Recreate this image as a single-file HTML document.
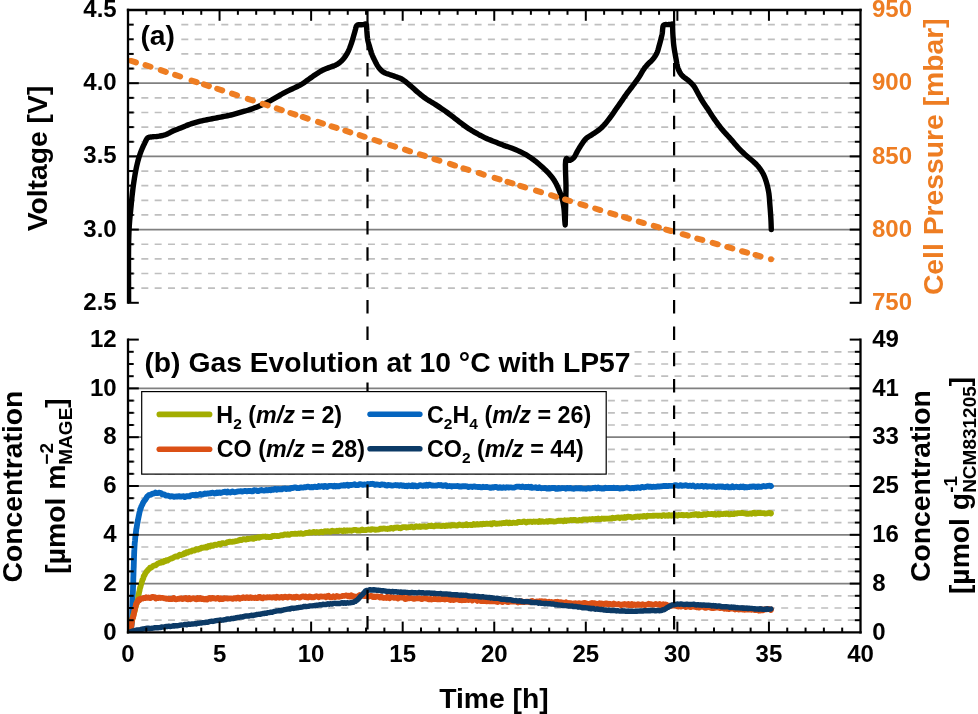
<!DOCTYPE html>
<html><head><meta charset="utf-8"><style>
html,body{margin:0;padding:0;background:#fff;overflow:hidden;}
svg{display:block;will-change:transform;}
</style></head><body>
<svg width="978" height="714" viewBox="0 0 978 714">
<defs><clipPath id="cu"><rect x="128" y="10" width="732.5" height="292.8"/></clipPath><clipPath id="cl"><rect x="128" y="339.6" width="732.5" height="292.8"/></clipPath></defs>
<rect width="978" height="714" fill="#fff"/>
<line x1="128" y1="288.16" x2="860.5" y2="288.16" stroke="#BFBFBF" stroke-width="1.7" stroke-dasharray="7 6.33"/>
<line x1="128" y1="273.52" x2="860.5" y2="273.52" stroke="#BFBFBF" stroke-width="1.7" stroke-dasharray="7 6.33"/>
<line x1="128" y1="258.88" x2="860.5" y2="258.88" stroke="#BFBFBF" stroke-width="1.7" stroke-dasharray="7 6.33"/>
<line x1="128" y1="244.24" x2="860.5" y2="244.24" stroke="#BFBFBF" stroke-width="1.7" stroke-dasharray="7 6.33"/>
<line x1="128" y1="229.6" x2="860.5" y2="229.6" stroke="#808080" stroke-width="1.7"/>
<line x1="128" y1="214.96" x2="860.5" y2="214.96" stroke="#BFBFBF" stroke-width="1.7" stroke-dasharray="7 6.33"/>
<line x1="128" y1="200.32" x2="860.5" y2="200.32" stroke="#BFBFBF" stroke-width="1.7" stroke-dasharray="7 6.33"/>
<line x1="128" y1="185.68" x2="860.5" y2="185.68" stroke="#BFBFBF" stroke-width="1.7" stroke-dasharray="7 6.33"/>
<line x1="128" y1="171.04" x2="860.5" y2="171.04" stroke="#BFBFBF" stroke-width="1.7" stroke-dasharray="7 6.33"/>
<line x1="128" y1="156.4" x2="860.5" y2="156.4" stroke="#808080" stroke-width="1.7"/>
<line x1="128" y1="141.76" x2="860.5" y2="141.76" stroke="#BFBFBF" stroke-width="1.7" stroke-dasharray="7 6.33"/>
<line x1="128" y1="127.12" x2="860.5" y2="127.12" stroke="#BFBFBF" stroke-width="1.7" stroke-dasharray="7 6.33"/>
<line x1="128" y1="112.48" x2="860.5" y2="112.48" stroke="#BFBFBF" stroke-width="1.7" stroke-dasharray="7 6.33"/>
<line x1="128" y1="97.84" x2="860.5" y2="97.84" stroke="#BFBFBF" stroke-width="1.7" stroke-dasharray="7 6.33"/>
<line x1="128" y1="83.2" x2="860.5" y2="83.2" stroke="#808080" stroke-width="1.7"/>
<line x1="128" y1="68.56" x2="860.5" y2="68.56" stroke="#BFBFBF" stroke-width="1.7" stroke-dasharray="7 6.33"/>
<line x1="128" y1="53.92" x2="860.5" y2="53.92" stroke="#BFBFBF" stroke-width="1.7" stroke-dasharray="7 6.33"/>
<line x1="128" y1="39.28" x2="860.5" y2="39.28" stroke="#BFBFBF" stroke-width="1.7" stroke-dasharray="7 6.33"/>
<line x1="128" y1="24.64" x2="860.5" y2="24.64" stroke="#BFBFBF" stroke-width="1.7" stroke-dasharray="7 6.33"/>
<line x1="128" y1="620.2" x2="860.5" y2="620.2" stroke="#BFBFBF" stroke-width="1.7" stroke-dasharray="7 6.33"/>
<line x1="128" y1="608" x2="860.5" y2="608" stroke="#BFBFBF" stroke-width="1.7" stroke-dasharray="7 6.33"/>
<line x1="128" y1="595.8" x2="860.5" y2="595.8" stroke="#BFBFBF" stroke-width="1.7" stroke-dasharray="7 6.33"/>
<line x1="128" y1="583.6" x2="860.5" y2="583.6" stroke="#808080" stroke-width="1.7"/>
<line x1="128" y1="571.4" x2="860.5" y2="571.4" stroke="#BFBFBF" stroke-width="1.7" stroke-dasharray="7 6.33"/>
<line x1="128" y1="559.2" x2="860.5" y2="559.2" stroke="#BFBFBF" stroke-width="1.7" stroke-dasharray="7 6.33"/>
<line x1="128" y1="547" x2="860.5" y2="547" stroke="#BFBFBF" stroke-width="1.7" stroke-dasharray="7 6.33"/>
<line x1="128" y1="534.8" x2="860.5" y2="534.8" stroke="#808080" stroke-width="1.7"/>
<line x1="128" y1="522.6" x2="860.5" y2="522.6" stroke="#BFBFBF" stroke-width="1.7" stroke-dasharray="7 6.33"/>
<line x1="128" y1="510.4" x2="860.5" y2="510.4" stroke="#BFBFBF" stroke-width="1.7" stroke-dasharray="7 6.33"/>
<line x1="128" y1="498.2" x2="860.5" y2="498.2" stroke="#BFBFBF" stroke-width="1.7" stroke-dasharray="7 6.33"/>
<line x1="128" y1="486" x2="860.5" y2="486" stroke="#808080" stroke-width="1.7"/>
<line x1="128" y1="473.8" x2="860.5" y2="473.8" stroke="#BFBFBF" stroke-width="1.7" stroke-dasharray="7 6.33"/>
<line x1="128" y1="461.6" x2="860.5" y2="461.6" stroke="#BFBFBF" stroke-width="1.7" stroke-dasharray="7 6.33"/>
<line x1="128" y1="449.4" x2="860.5" y2="449.4" stroke="#BFBFBF" stroke-width="1.7" stroke-dasharray="7 6.33"/>
<line x1="128" y1="437.2" x2="860.5" y2="437.2" stroke="#808080" stroke-width="1.7"/>
<line x1="128" y1="425" x2="860.5" y2="425" stroke="#BFBFBF" stroke-width="1.7" stroke-dasharray="7 6.33"/>
<line x1="128" y1="412.8" x2="860.5" y2="412.8" stroke="#BFBFBF" stroke-width="1.7" stroke-dasharray="7 6.33"/>
<line x1="128" y1="400.6" x2="860.5" y2="400.6" stroke="#BFBFBF" stroke-width="1.7" stroke-dasharray="7 6.33"/>
<line x1="128" y1="388.4" x2="860.5" y2="388.4" stroke="#808080" stroke-width="1.7"/>
<line x1="128" y1="376.2" x2="860.5" y2="376.2" stroke="#BFBFBF" stroke-width="1.7" stroke-dasharray="7 6.33"/>
<line x1="128" y1="364" x2="860.5" y2="364" stroke="#BFBFBF" stroke-width="1.7" stroke-dasharray="7 6.33"/>
<line x1="128" y1="351.8" x2="860.5" y2="351.8" stroke="#BFBFBF" stroke-width="1.7" stroke-dasharray="7 6.33"/>
<path clip-path="url(#cl)" d="M128.5,632 L129.18,631.01 L129.9,630.05 L130.52,628.59 L130.96,628.33 L131.25,627.06 L131.48,625.28 L131.65,624.38 L131.78,623.13 L131.89,622.18 L131.98,621.15 L132.05,619.11 L132.12,617.84 L132.16,617.61 L132.2,615.92 L132.24,615.12 L132.27,613.01 L132.3,612.34 L132.32,611.47 L132.34,609.68 L132.36,609.34 L132.38,608.09 L132.4,605.84 L132.43,604.64 L132.46,604.06 L132.49,603.33 L132.53,601.47 L132.57,600.07 L132.62,599.12 L132.67,597.45 L132.72,596.48 L132.77,595.54 L132.81,594.41 L132.86,592.89 L132.9,591.69 L132.94,590.48 L132.98,589.57 L133.02,588.17 L133.06,586.64 L133.1,586.42 L133.14,584.89 L133.17,583.79 L133.21,582.04 L133.24,581.81 L133.28,580.45 L133.32,578.37 L133.35,577.42 L133.39,576.69 L133.43,575.48 L133.46,574.55 L133.5,572.73 L133.54,572.02 L133.58,570.63 L133.62,568.99 L133.66,568.13 L133.71,567.29 L133.75,566.04 L133.79,564.44 L133.83,563.34 L133.87,561.47 L133.91,560.52 L133.95,559.99 L133.99,558.33 L134.03,556.84 L134.07,556.09 L134.11,555.08 L134.15,553.85 L134.2,552.29 L134.25,551.16 L134.31,550.05 L134.37,549.18 L134.44,547.67 L134.52,546.32 L134.6,545.24 L134.69,543.49 L134.78,542.31 L134.89,541.9 L135,541.04 L135.11,539.38 L135.23,537.95 L135.35,536.49 L135.49,535.69 L135.62,535.08 L135.77,533.63 L135.92,532.16 L136.07,531.36 L136.24,529.42 L136.42,528.57 L136.61,527.91 L136.82,526.28 L137.04,524.96 L137.26,523.55 L137.48,522.7 L137.69,522.01 L137.9,519.69 L138.1,519.44 L138.31,518.3 L138.53,517.2 L138.78,515.85 L139.04,514.76 L139.31,513.25 L139.59,512.13 L139.9,510.81 L140.23,509.21 L140.59,509.04 L141,507.56 L141.45,506 L141.94,505.27 L142.46,504.17 L143.01,502.95 L143.59,501.88 L144.2,501.08 L144.86,500.18 L145.57,499.2 L146.32,498.08 L147.11,496.65 L147.93,496.03 L148.82,495.16 L149.78,494.93 L150.8,494.62 L151.87,494.01 L153,493.6 L154.16,493.35 L155.36,492.53 L156.55,493.22 L157.75,493.15 L158.93,492.67 L160.09,492.87 L161.24,493.22 L162.37,494.5 L163.51,494.28 L164.63,494.54 L165.75,495.59 L166.88,495.66 L168.03,495.66 L169.21,495.99 L170.4,496.55 L171.6,496.18 L172.8,496.33 L174,496.85 L175.2,496.54 L176.4,496.39 L177.6,496.6 L178.8,496.08 L180,496.53 L181.2,496.58 L182.4,496.3 L183.6,496.18 L184.8,497.08 L186,496.53 L187.19,496.06 L188.38,496.37 L189.56,496.43 L190.74,495.25 L191.92,495.02 L193.1,494.95 L194.28,495.42 L195.47,494.55 L196.65,495.04 L197.84,494.86 L199.03,494.55 L200.23,494.02 L201.42,494.79 L202.61,494.44 L203.8,493.97 L205,493.5 L206.19,493.89 L207.39,493.46 L208.58,493.56 L209.77,493.14 L210.97,493.4 L212.16,492.61 L213.36,492.79 L214.56,493.49 L215.75,493.28 L216.95,492.5 L218.14,493.07 L219.34,492.32 L220.54,492.99 L221.73,492.67 L222.93,492.2 L224.13,491.93 L225.33,491.57 L226.53,492.55 L227.72,491.48 L228.92,492.36 L230.12,492.48 L231.32,491.95 L232.52,491.42 L233.72,492.21 L234.92,492.29 L236.12,491.91 L237.32,491.63 L238.51,491.42 L239.71,491.34 L240.91,491.12 L242.11,491.63 L243.31,491.28 L244.51,490.94 L245.71,490.78 L246.91,491.39 L248.1,490.88 L249.3,491.06 L250.5,490.78 L251.7,491.37 L252.9,491.33 L254.09,490.21 L255.29,490.35 L256.49,490.44 L257.69,491.15 L258.89,490.84 L260.08,490.23 L261.28,490 L262.48,490.48 L263.68,490.6 L264.87,490.64 L266.07,489.86 L267.27,490.43 L268.47,490.11 L269.66,489.79 L270.86,490.31 L272.06,489.33 L273.26,489.84 L274.45,488.99 L275.65,489.02 L276.85,489.82 L278.04,488.9 L279.24,489.47 L280.44,489.2 L281.64,489.4 L282.83,488.74 L284.03,488.61 L285.22,488.46 L286.42,489.06 L287.62,488.65 L288.81,488.97 L290.01,488.8 L291.21,487.8 L292.4,488.21 L293.6,487.58 L294.8,487.4 L295.99,487.35 L297.19,488.22 L298.39,488.04 L299.58,488 L300.78,487.33 L301.98,487.58 L303.17,487.7 L304.37,487.14 L305.57,487.3 L306.77,486.82 L307.97,486.59 L309.16,486.75 L310.36,487.45 L311.56,487.01 L312.76,487.39 L313.96,486.79 L315.16,486.53 L316.36,487.1 L317.56,487.11 L318.76,486.09 L319.96,486.84 L321.16,486.11 L322.36,486.1 L323.56,486.99 L324.76,485.93 L325.95,486.13 L327.15,486.99 L328.35,486.27 L329.55,485.86 L330.75,485.87 L331.95,485.91 L333.15,486.46 L334.35,485.63 L335.55,486.54 L336.74,485.83 L337.94,486.47 L339.14,486.32 L340.34,485.51 L341.53,485.38 L342.73,485.57 L343.93,485.03 L345.13,485.61 L346.32,484.79 L347.52,484.67 L348.72,485.75 L349.91,484.84 L351.11,485.12 L352.31,484.87 L353.51,484.63 L354.7,484.25 L355.9,485.2 L357.1,485.2 L358.3,485.14 L359.5,484.06 L360.7,484.13 L361.9,484.57 L363.09,484.96 L364.29,484.4 L365.49,484.54 L366.69,484.48 L367.89,483.98 L369.09,484.3 L370.29,484.02 L371.49,483.95 L372.69,483.77 L373.89,484.03 L375.09,484.91 L376.29,484.3 L377.49,484.61 L378.69,484.67 L379.89,485.1 L381.08,484.52 L382.28,484.5 L383.48,484.61 L384.67,484.69 L385.87,485.42 L387.07,485.56 L388.26,484.94 L389.46,485.06 L390.66,485.39 L391.86,485.51 L393.05,485.59 L394.25,485.23 L395.45,485.01 L396.65,485.32 L397.85,485.15 L399.05,485.75 L400.25,485.2 L401.45,485.22 L402.65,485.91 L403.85,485.51 L405.05,486.12 L406.25,485.77 L407.45,486.22 L408.65,485.37 L409.85,485.78 L411.05,486.13 L412.25,485.26 L413.45,486.3 L414.65,485.35 L415.85,486.06 L417.05,486.29 L418.25,486.06 L419.45,485.42 L420.65,485.11 L421.84,485.53 L423.04,485.94 L424.24,485.11 L425.44,485.76 L426.64,484.79 L427.83,485.66 L429.03,484.57 L430.23,484.89 L431.43,485.58 L432.63,485.48 L433.83,485.62 L435.03,485.58 L436.23,485.5 L437.43,485.48 L438.63,484.92 L439.83,485.29 L441.03,485.02 L442.22,485.76 L443.42,485.77 L444.62,485.34 L445.82,485.19 L447.02,486.34 L448.21,486.23 L449.41,485.99 L450.61,486.06 L451.81,486.5 L453.01,486.09 L454.2,486.09 L455.4,486.08 L456.6,486.05 L457.8,485.83 L459,486.62 L460.2,486.4 L461.4,486.63 L462.6,486.06 L463.79,486.45 L464.99,486.22 L466.19,486.24 L467.39,486.43 L468.59,487.15 L469.79,486.66 L470.99,486.69 L472.19,486.98 L473.39,486.55 L474.59,486.3 L475.79,486.95 L476.99,486.95 L478.19,487.15 L479.39,486.92 L480.59,487.24 L481.79,487.32 L482.99,486.76 L484.19,487.09 L485.39,487.1 L486.59,486.82 L487.79,487.07 L488.99,487.28 L490.19,487.73 L491.39,487.78 L492.59,487.05 L493.78,487.54 L494.98,486.87 L496.18,486.93 L497.38,487.49 L498.58,487.95 L499.78,487.09 L500.98,487.81 L502.18,487.93 L503.38,487.22 L504.58,487.64 L505.78,487.78 L506.98,487.16 L508.18,487.51 L509.38,487.5 L510.58,487.28 L511.78,487.54 L512.98,487.54 L514.17,487.58 L515.37,487.07 L516.57,486.56 L517.77,486.63 L518.97,486.57 L520.17,486.98 L521.37,487.21 L522.57,486.38 L523.77,487.16 L524.97,487.24 L526.17,486.83 L527.37,487.08 L528.57,486.72 L529.77,487.45 L530.97,486.69 L532.16,487.88 L533.36,487.74 L534.56,487.6 L535.76,487.24 L536.96,488.08 L538.15,488.21 L539.35,487.29 L540.55,488.12 L541.75,488.25 L542.95,488.09 L544.15,488.19 L545.35,487.93 L546.54,488.56 L547.74,488.66 L548.94,488.01 L550.14,488.56 L551.34,488.16 L552.54,487.88 L553.74,488.11 L554.94,487.9 L556.14,488.87 L557.34,488.95 L558.54,487.96 L559.74,488.55 L560.94,488.34 L562.14,488 L563.34,488.22 L564.54,488.16 L565.74,488.77 L566.94,487.87 L568.14,488.09 L569.34,488.39 L570.54,487.88 L571.74,488.61 L572.94,488.57 L574.14,488.84 L575.34,488.08 L576.54,488.16 L577.74,488.46 L578.94,488.12 L580.14,488.49 L581.34,488.07 L582.54,488.56 L583.74,488.67 L584.94,488.67 L586.14,488.84 L587.34,488.29 L588.54,488.2 L589.74,488.61 L590.94,488.47 L592.13,488.21 L593.33,487.96 L594.53,487.81 L595.73,487.58 L596.93,488.4 L598.13,487.56 L599.33,488.3 L600.53,488.05 L601.73,488.56 L602.93,488.32 L604.13,488.58 L605.33,487.59 L606.53,488.05 L607.73,488.16 L608.93,487.86 L610.13,488.12 L611.33,487.96 L612.53,488.19 L613.73,487.58 L614.93,488.13 L616.13,488.15 L617.33,487.99 L618.53,488.1 L619.73,488.56 L620.93,488.43 L622.13,488.18 L623.33,488.34 L624.53,487.99 L625.73,487.74 L626.93,487.46 L628.13,487.74 L629.33,488.07 L630.53,488.36 L631.73,488.23 L632.92,487.79 L634.12,488.3 L635.32,487.6 L636.52,487.99 L637.72,487.41 L638.91,487.75 L640.11,487.98 L641.31,487.1 L642.51,486.87 L643.71,487.34 L644.91,487.16 L646.1,486.88 L647.3,486.38 L648.5,486.77 L649.7,486.74 L650.89,486.64 L652.09,487.11 L653.29,486.71 L654.49,486.81 L655.68,486.93 L656.88,486.68 L658.08,486.3 L659.28,486.53 L660.48,486.33 L661.67,486.27 L662.87,486.17 L664.07,485.83 L665.27,486.01 L666.46,485.93 L667.66,486.21 L668.86,485.95 L670.06,485.96 L671.25,485.81 L672.45,485.82 L673.65,485.54 L674.85,485.22 L676.05,485.11 L677.25,485.66 L678.45,485.87 L679.65,485.5 L680.85,485.06 L682.05,485.92 L683.25,485.54 L684.45,485.57 L685.65,485.11 L686.85,485.71 L688.05,486.05 L689.25,485.71 L690.44,485.68 L691.64,486.09 L692.84,485.37 L694.04,486 L695.24,486.57 L696.44,486.3 L697.64,485.99 L698.84,486.37 L700.04,486.3 L701.24,485.86 L702.44,485.9 L703.64,486.74 L704.84,486.04 L706.04,485.84 L707.24,486.78 L708.44,486.45 L709.64,486.29 L710.84,486.5 L712.03,486.8 L713.23,486.15 L714.43,486.76 L715.63,486.86 L716.83,487.01 L718.03,486.39 L719.23,486.82 L720.43,486.39 L721.63,486.81 L722.83,486.36 L724.03,487.12 L725.23,487.23 L726.43,486.6 L727.63,486.49 L728.83,487.39 L730.03,487.09 L731.23,487.27 L732.43,486.3 L733.63,487.36 L734.83,487.03 L736.03,486.67 L737.23,486.82 L738.43,487.22 L739.63,487.25 L740.83,486.54 L742.03,487.06 L743.23,486.51 L744.43,487.47 L745.63,486.83 L746.83,487.39 L748.03,487.16 L749.23,487.01 L750.43,486.58 L751.63,486.88 L752.83,486.4 L754.03,486.37 L755.23,487.04 L756.43,486.58 L757.63,487.01 L758.83,486.36 L760.03,486.89 L761.23,486.83 L762.43,486.28 L763.62,485.99 L764.82,486.28 L766.02,486.33 L767.22,485.8 L768.42,485.84 L769.62,485.63 L770.82,486.23 L771,486.1" fill="none" stroke="#0565BF" stroke-width="5.8" stroke-linejoin="round" stroke-linecap="round"/>
<path clip-path="url(#cl)" d="M128.5,632 L128.85,630.85 L129.19,629.7 L129.54,629.1 L129.89,627.94 L130.24,625.73 L130.59,624.61 L130.93,624.36 L131.27,623.09 L131.6,621.86 L131.92,620.27 L132.24,619.47 L132.55,618.31 L132.86,617.12 L133.17,615.45 L133.48,614.62 L133.79,613.42 L134.11,612.66 L134.43,611.83 L134.77,610.62 L135.11,608.98 L135.46,607.72 L135.81,606.36 L136.16,604.93 L136.5,603.77 L136.83,603.14 L137.17,601.81 L137.49,600.73 L137.78,600.18 L138.05,598.57 L138.29,597.44 L138.5,595.87 L138.69,594.43 L138.89,593.61 L139.08,592.2 L139.29,591.46 L139.52,590.87 L139.78,589.31 L140.06,587.55 L140.36,587.24 L140.67,585.97 L141,584.74 L141.33,583.79 L141.69,582.48 L142.06,581.37 L142.45,579.71 L142.87,579.34 L143.3,578.19 L143.75,576.12 L144.24,575.74 L144.78,574.62 L145.39,573.28 L146.03,572.35 L146.72,571.32 L147.45,570.89 L148.24,569.48 L149.1,569.03 L150.02,567.7 L151.01,567.65 L152.04,567.06 L153.1,565.97 L154.18,565.57 L155.27,565.48 L156.36,564.75 L157.45,563.96 L158.54,563.15 L159.65,562.81 L160.76,562.81 L161.88,561.74 L163,562.2 L164.12,561.01 L165.24,561.35 L166.36,560.2 L167.48,560.54 L168.59,559.79 L169.71,559.1 L170.82,558.66 L171.93,558.37 L173.04,557.85 L174.16,557.08 L175.28,556.51 L176.4,556.44 L177.52,556.53 L178.64,555.73 L179.77,554.66 L180.9,555.15 L182.03,554.63 L183.16,554.45 L184.29,553.19 L185.43,553.47 L186.56,552.25 L187.7,552.58 L188.83,551.73 L189.97,551.29 L191.1,551.68 L192.24,550.38 L193.38,550.5 L194.53,550.54 L195.67,549.46 L196.83,549.09 L197.99,549.58 L199.15,548.74 L200.32,548.82 L201.49,547.74 L202.66,547.87 L203.83,547.38 L205,547.71 L206.17,546.72 L207.33,547.48 L208.5,546.08 L209.67,546.65 L210.83,545.52 L212,545.52 L213.17,545.92 L214.34,544.87 L215.51,544.65 L216.69,545.01 L217.86,544.41 L219.04,543.77 L220.22,544.68 L221.4,543.44 L222.58,543.07 L223.75,543.2 L224.93,543.28 L226.1,543.18 L227.27,542.16 L228.44,542.17 L229.61,541.54 L230.78,541.78 L231.96,541.9 L233.13,541.62 L234.31,541.58 L235.48,541.17 L236.66,541.08 L237.85,540.69 L239.03,540.22 L240.22,539.73 L241.4,540.08 L242.59,539.49 L243.78,539.07 L244.97,539.32 L246.16,539.67 L247.35,538.62 L248.54,539.02 L249.73,538.64 L250.92,538.64 L252.11,538.06 L253.3,538.89 L254.49,537.91 L255.69,538.19 L256.88,537.82 L258.07,537.2 L259.26,537.71 L260.45,537.08 L261.65,536.85 L262.84,536.69 L264.03,536.72 L265.23,536.52 L266.42,537.04 L267.61,536.77 L268.81,537.22 L270,537.04 L271.2,537 L272.39,535.97 L273.59,536.11 L274.78,535.76 L275.97,536.05 L277.17,535.97 L278.36,536.06 L279.56,535.84 L280.75,535.17 L281.94,535.25 L283.14,535.25 L284.33,534.51 L285.53,534.43 L286.72,534.75 L287.91,534.28 L289.11,534.89 L290.3,534.2 L291.5,533.91 L292.69,533.89 L293.89,533.84 L295.08,533.71 L296.28,533.96 L297.47,533.78 L298.67,533.48 L299.86,533.77 L301.06,533.15 L302.25,533.87 L303.45,533.83 L304.64,533.44 L305.84,532.98 L307.03,532.96 L308.23,532.94 L309.42,532.2 L310.62,532.54 L311.81,532.57 L313.01,532.07 L314.21,531.87 L315.4,532.63 L316.6,532.02 L317.8,532.12 L318.99,532.53 L320.19,532.08 L321.39,531.62 L322.59,532.38 L323.79,531.58 L324.98,531.09 L326.18,531.83 L327.38,531.07 L328.58,531.26 L329.78,531.84 L330.98,531.58 L332.18,530.74 L333.37,531.21 L334.57,531.1 L335.77,531.14 L336.97,530.76 L338.17,531.16 L339.37,530.49 L340.57,530.7 L341.77,530.75 L342.97,531.38 L344.16,530.29 L345.36,531.06 L346.56,530.33 L347.76,530.74 L348.96,530.47 L350.16,530.51 L351.36,530.8 L352.56,530.32 L353.76,529.94 L354.95,529.89 L356.15,529.78 L357.35,530.65 L358.55,530.34 L359.75,530.67 L360.95,530.29 L362.15,529.43 L363.34,530.13 L364.54,530.21 L365.74,530.09 L366.94,529.75 L368.14,529.51 L369.34,529.57 L370.53,529.91 L371.73,529.2 L372.93,529.44 L374.13,529.31 L375.33,529.81 L376.52,529.56 L377.72,529.64 L378.92,529.45 L380.12,528.72 L381.31,528.57 L382.51,528.8 L383.71,528.45 L384.91,528.57 L386.1,528.8 L387.3,529.01 L388.5,528.53 L389.7,528.73 L390.89,527.79 L392.09,528.02 L393.29,528.71 L394.49,527.62 L395.68,527.86 L396.88,527.37 L398.08,527.31 L399.28,528.21 L400.47,528.24 L401.67,527.76 L402.87,527.06 L404.07,527.19 L405.27,527.04 L406.46,527.5 L407.66,527.44 L408.86,527.08 L410.06,527.11 L411.26,526.55 L412.45,527 L413.65,527.43 L414.85,527.13 L416.05,526.28 L417.25,526.72 L418.45,526.9 L419.64,526.29 L420.84,527 L422.04,526.42 L423.24,526.66 L424.44,526.25 L425.64,526.91 L426.84,526.6 L428.04,526.3 L429.23,525.73 L430.43,526.04 L431.63,525.5 L432.83,526.13 L434.03,526.43 L435.23,525.54 L436.43,525.89 L437.63,525.81 L438.83,525.67 L440.03,526 L441.23,526.22 L442.43,525.9 L443.62,525.58 L444.82,526.13 L446.02,525.32 L447.22,525.78 L448.42,525.63 L449.62,525.71 L450.82,525.78 L452.02,524.99 L453.22,525.42 L454.42,525.11 L455.62,525.39 L456.82,525.72 L458.02,525.26 L459.21,524.47 L460.41,524.97 L461.61,525.22 L462.81,525.38 L464.01,525.06 L465.21,525.21 L466.41,524.2 L467.61,525.26 L468.81,524.96 L470.01,524.76 L471.21,525.07 L472.4,525 L473.6,524.01 L474.8,524.81 L476,524.71 L477.2,523.97 L478.4,524.58 L479.6,524.34 L480.8,523.81 L482,524.5 L483.19,523.65 L484.39,524.17 L485.59,523.9 L486.79,523.63 L487.99,523.96 L489.19,523.79 L490.39,523.42 L491.59,524.28 L492.79,523.16 L493.98,523.02 L495.18,523.54 L496.38,523.91 L497.58,523.64 L498.78,523.7 L499.98,523.32 L501.18,523.49 L502.38,523.03 L503.57,522.89 L504.77,523.11 L505.97,522.48 L507.17,522.48 L508.37,523.23 L509.57,522.46 L510.76,523.09 L511.96,523.06 L513.16,522.53 L514.36,522.78 L515.56,522.84 L516.75,522.86 L517.95,521.91 L519.15,521.88 L520.35,522.07 L521.54,522.1 L522.74,521.83 L523.94,521.43 L525.14,522.02 L526.34,522.46 L527.54,521.69 L528.74,521.84 L529.94,521.61 L531.13,521.64 L532.33,522.12 L533.53,521.41 L534.73,521.79 L535.93,521.56 L537.13,521.59 L538.33,522.02 L539.53,520.99 L540.73,521.86 L541.93,521.22 L543.13,521.6 L544.33,521.76 L545.53,521.57 L546.73,521.23 L547.93,521.75 L549.13,520.83 L550.33,521.45 L551.53,521.13 L552.73,521.27 L553.93,521.62 L555.13,521.53 L556.33,521.29 L557.53,520.86 L558.73,520.72 L559.93,520.94 L561.12,520.62 L562.32,520.62 L563.52,521.37 L564.72,520.3 L565.92,521.08 L567.12,520.49 L568.31,520.41 L569.51,520.29 L570.71,519.94 L571.91,520.33 L573.11,519.93 L574.31,520.2 L575.51,519.97 L576.7,520.64 L577.9,520.62 L579.1,519.99 L580.3,520.17 L581.5,520.46 L582.7,519.67 L583.9,519.34 L585.09,519.43 L586.29,519.3 L587.49,519.81 L588.69,519.35 L589.88,519.24 L591.08,519.67 L592.27,518.89 L593.47,519.49 L594.67,519.17 L595.86,518.8 L597.06,519.21 L598.25,518.54 L599.45,519.1 L600.65,519.08 L601.85,518.5 L603.05,518.66 L604.24,518.91 L605.44,518.61 L606.64,518.56 L607.84,518.65 L609.04,518.68 L610.24,518.4 L611.44,518.62 L612.63,517.74 L613.83,518.08 L615.03,518.08 L616.23,517.65 L617.43,517.63 L618.63,517.3 L619.83,518.18 L621.02,517.39 L622.22,517.47 L623.42,517.91 L624.62,517 L625.82,517.87 L627.02,516.8 L628.21,516.62 L629.41,516.95 L630.61,516.89 L631.81,517.5 L633.01,517.4 L634.21,517.19 L635.4,516.74 L636.6,516.81 L637.8,516.39 L639,517.05 L640.2,516.46 L641.4,516.28 L642.6,516.64 L643.8,516 L644.99,516.15 L646.19,516.83 L647.39,515.77 L648.59,515.78 L649.79,515.8 L650.99,515.8 L652.19,515.95 L653.39,515.69 L654.58,515.75 L655.78,515.59 L656.98,515.53 L658.18,515.92 L659.38,515.55 L660.58,515.54 L661.78,515.97 L662.98,515.07 L664.18,515.13 L665.38,515.93 L666.58,515.39 L667.77,515.76 L668.97,514.95 L670.17,515.38 L671.37,515.73 L672.57,515.08 L673.77,515.57 L674.97,515.34 L676.17,515.05 L677.37,515.75 L678.57,514.99 L679.77,515.06 L680.97,515.21 L682.17,514.82 L683.37,515.41 L684.57,515.1 L685.77,515.06 L686.97,514.98 L688.17,515.49 L689.37,515.47 L690.57,515.26 L691.77,514.77 L692.97,514.69 L694.17,514.8 L695.37,514.2 L696.57,514.25 L697.77,515.28 L698.97,514.21 L700.16,515.16 L701.36,514.82 L702.56,515.07 L703.76,514.04 L704.96,514.28 L706.16,514.84 L707.36,513.87 L708.56,513.96 L709.76,514.22 L710.96,513.98 L712.16,513.92 L713.36,514.52 L714.56,513.8 L715.76,514.82 L716.96,514.41 L718.16,513.66 L719.36,514.65 L720.56,513.83 L721.76,514.08 L722.96,514.15 L724.16,513.61 L725.36,514.02 L726.56,513.45 L727.76,513.59 L728.96,514.42 L730.16,514.27 L731.35,513.87 L732.55,514.02 L733.75,514.22 L734.95,513.3 L736.15,513.68 L737.35,513.21 L738.55,513.16 L739.75,513.11 L740.95,513.2 L742.15,512.97 L743.35,513.13 L744.55,513.29 L745.75,513.55 L746.95,513.79 L748.15,513.82 L749.35,513.56 L750.55,513.28 L751.75,513.75 L752.95,512.82 L754.15,512.73 L755.35,513.57 L756.55,513.33 L757.75,512.82 L758.95,513.02 L760.15,512.92 L761.35,513.08 L762.55,513.08 L763.75,513.05 L764.95,513.53 L766.15,513.56 L767.35,513.26 L768.55,513.16 L769.75,512.94 L770.95,513.52 L771,513.2" fill="none" stroke="#A3AD00" stroke-width="5.8" stroke-linejoin="round" stroke-linecap="round"/>
<path clip-path="url(#cl)" d="M128.5,632 L129.08,630.95 L129.69,629.92 L130.28,628.45 L130.8,627.86 L131.2,626.45 L131.44,625.65 L131.59,624.5 L131.7,622.4 L131.83,621.13 L132.04,621.27 L132.33,619.18 L132.66,617.98 L133.01,618.05 L133.35,616.06 L133.66,615.49 L133.93,613.74 L134.17,612.83 L134.4,610.87 L134.62,610.46 L134.85,609.66 L135.1,607.93 L135.39,607.12 L135.73,605.86 L136.11,603.75 L136.54,603.74 L137.05,602.38 L137.7,600.91 L138.5,599.59 L139.42,600.16 L140.42,598.86 L141.48,598.7 L142.6,598.52 L143.76,597.98 L144.96,598.17 L146.15,597.26 L147.35,597.89 L148.55,597.31 L149.75,598.11 L150.95,598.07 L152.15,596.87 L153.35,597 L154.55,597.19 L155.75,598.46 L156.94,597.68 L158.14,598.04 L159.34,597.58 L160.54,597.98 L161.74,597.85 L162.94,597.86 L164.13,598.3 L165.33,598.36 L166.53,598.92 L167.73,598.61 L168.93,599.04 L170.13,598.96 L171.33,599.21 L172.53,598.72 L173.73,597.94 L174.93,599.08 L176.13,599.26 L177.33,599.19 L178.53,598.67 L179.73,598.91 L180.93,598.13 L182.13,599.13 L183.33,598.73 L184.53,598.29 L185.73,597.95 L186.93,599.22 L188.13,599.45 L189.33,598.02 L190.53,599.17 L191.73,598.55 L192.93,598.15 L194.13,598.38 L195.33,599.15 L196.53,599.32 L197.73,598 L198.93,598.91 L200.13,598 L201.33,599.08 L202.53,598.45 L203.73,599.33 L204.93,599.48 L206.13,598.71 L207.33,599.49 L208.53,598.38 L209.73,597.99 L210.93,598.81 L212.13,597.89 L213.33,598.14 L214.53,598.45 L215.73,598.76 L216.93,598.01 L218.13,597.81 L219.33,599.1 L220.53,598.19 L221.72,599.2 L222.92,599.07 L224.12,598.22 L225.32,598.32 L226.52,598.39 L227.72,598.56 L228.92,598.46 L230.12,598.37 L231.32,598.44 L232.52,598.93 L233.72,598.21 L234.92,598.06 L236.12,598.5 L237.32,597.7 L238.52,597.77 L239.72,598.83 L240.92,598.07 L242.12,598.09 L243.32,597.2 L244.52,597.83 L245.72,598.07 L246.92,597.15 L248.12,598.08 L249.32,598.08 L250.52,597.14 L251.72,598.03 L252.92,597.75 L254.12,598.07 L255.32,597.53 L256.52,598.07 L257.72,598.1 L258.92,596.93 L260.12,596.97 L261.32,597.94 L262.52,598.38 L263.72,597.22 L264.92,597.52 L266.12,597.72 L267.32,597.26 L268.52,597.31 L269.72,597.21 L270.92,597.28 L272.11,597.62 L273.31,597.13 L274.51,597.23 L275.71,597.84 L276.91,596.63 L278.11,597.48 L279.31,597.73 L280.51,597.03 L281.71,596.87 L282.91,597.78 L284.11,596.85 L285.31,596.75 L286.51,597.13 L287.71,597.53 L288.91,596.56 L290.11,596.89 L291.31,596.89 L292.51,597.68 L293.71,597.03 L294.91,597.68 L296.11,596.56 L297.31,596.82 L298.51,597.3 L299.71,597.66 L300.91,596.95 L302.11,596.58 L303.31,596.39 L304.51,597.03 L305.71,596.48 L306.91,597.45 L308.11,597.48 L309.31,596.42 L310.51,596.55 L311.71,597.38 L312.91,597.1 L314.11,597.35 L315.31,596.59 L316.51,596.23 L317.71,596.47 L318.91,597.25 L320.11,596.4 L321.31,596.49 L322.51,596.58 L323.71,596.56 L324.91,596.52 L326.11,597.31 L327.31,596.06 L328.51,595.78 L329.71,597.25 L330.91,597.11 L332.11,597.25 L333.31,596.33 L334.5,597.11 L335.7,597.04 L336.9,595.87 L338.1,596.67 L339.3,596.79 L340.5,596.47 L341.7,596.21 L342.9,595.82 L344.1,595.88 L345.3,595.67 L346.5,595.4 L347.7,596.21 L348.9,595.7 L350.1,596.52 L351.3,595.27 L352.5,596.62 L353.7,596.26 L354.9,596.61 L356.1,596.55 L357.3,596.55 L358.5,596.03 L359.7,595.12 L360.9,596.3 L362.1,595.39 L363.3,595.61 L364.5,596.22 L365.7,596.03 L366.9,595.9 L368.1,596.79 L369.29,596.34 L370.49,595.98 L371.69,595.92 L372.89,596.99 L374.08,596.47 L375.28,597.06 L376.47,596.48 L377.67,596.33 L378.86,596.98 L380.06,597.53 L381.25,596.6 L382.45,597.69 L383.65,597.98 L384.84,597.88 L386.04,597.98 L387.24,596.75 L388.44,597.8 L389.64,598.24 L390.84,597 L392.03,597.42 L393.23,597.47 L394.43,597.93 L395.63,597.82 L396.83,597.95 L398.03,598.49 L399.23,597.3 L400.43,597.43 L401.63,597.59 L402.82,597.63 L404.02,597.58 L405.22,599.08 L406.42,598.93 L407.62,597.74 L408.82,598.44 L410.02,598.18 L411.22,598.22 L412.42,598.32 L413.62,598.83 L414.82,598.77 L416.02,598.44 L417.22,598.21 L418.42,598.46 L419.62,598.16 L420.82,598.88 L422.02,599.17 L423.22,598.66 L424.41,598.2 L425.61,598.38 L426.81,598.72 L428.01,599.11 L429.21,599.41 L430.41,598.79 L431.61,599.48 L432.81,599.22 L434.01,598.93 L435.21,598.85 L436.41,599.07 L437.61,599.42 L438.81,598.98 L440.01,599.44 L441.21,599.08 L442.41,598.76 L443.61,599.24 L444.81,599.52 L446.01,598.54 L447.21,599.13 L448.41,599.15 L449.61,599.9 L450.81,600.01 L452.01,599.14 L453.21,600.01 L454.41,599.86 L455.61,599.05 L456.81,599.41 L458.01,598.89 L459.21,600.04 L460.41,599.84 L461.61,600.24 L462.81,600.13 L464.01,599.97 L465.2,600.12 L466.4,599.9 L467.6,599.21 L468.8,600.03 L470,599.15 L471.2,599.42 L472.4,600.49 L473.6,599.37 L474.8,599.5 L475.99,599.57 L477.19,600.87 L478.39,599.81 L479.59,599.61 L480.79,600.98 L481.99,599.88 L483.19,601.09 L484.39,600.88 L485.58,601.19 L486.78,601.43 L487.98,600.89 L489.18,601.3 L490.38,600.13 L491.58,601.36 L492.78,601.02 L493.97,601.41 L495.17,600.5 L496.37,601.6 L497.57,601.96 L498.77,600.63 L499.96,601.12 L501.16,601.57 L502.36,602.05 L503.56,601.17 L504.76,601.12 L505.96,601.28 L507.16,601.91 L508.36,602.16 L509.56,601.62 L510.76,601.6 L511.96,601.66 L513.16,601.59 L514.36,601.7 L515.56,601.16 L516.76,601.81 L517.96,602.56 L519.16,601.64 L520.36,602.16 L521.56,601.2 L522.76,602.02 L523.95,602.1 L525.15,601.95 L526.35,601.67 L527.55,601.6 L528.75,601.84 L529.95,602.22 L531.15,601.02 L532.35,600.92 L533.55,601.96 L534.75,602.23 L535.95,601.59 L537.15,601.49 L538.35,601.95 L539.55,601.12 L540.75,601.29 L541.95,601.22 L543.15,601.88 L544.35,601.49 L545.55,601.42 L546.75,602.21 L547.95,602.69 L549.14,601.71 L550.34,602.43 L551.54,602.03 L552.74,602.8 L553.94,602.44 L555.13,602.01 L556.33,602 L557.53,601.76 L558.73,602.56 L559.93,602.47 L561.12,602.2 L562.32,602.56 L563.52,602.56 L564.72,603.34 L565.92,602.37 L567.12,603.78 L568.32,603 L569.52,603.23 L570.72,603.05 L571.92,603.67 L573.12,603.68 L574.32,603.28 L575.52,603.19 L576.71,603.59 L577.91,603.83 L579.11,603.12 L580.31,603.68 L581.51,604.06 L582.71,603.29 L583.91,602.93 L585.11,602.96 L586.31,603.75 L587.51,603.7 L588.71,604.17 L589.91,604.03 L591.11,603.07 L592.31,603.02 L593.51,603.15 L594.71,603.07 L595.91,603.93 L597.11,604.21 L598.31,604.31 L599.51,603.32 L600.71,604.34 L601.91,603.51 L603.11,603.73 L604.31,604.27 L605.5,603.29 L606.7,603.35 L607.9,604.58 L609.1,603.77 L610.3,603.92 L611.5,604.33 L612.7,604.53 L613.9,603.51 L615.1,604.08 L616.3,604.28 L617.5,604.4 L618.69,604 L619.89,604.63 L621.09,605.26 L622.29,604.38 L623.49,604.65 L624.69,603.99 L625.89,604.25 L627.09,604.89 L628.29,604.01 L629.49,605.24 L630.69,605.28 L631.89,603.97 L633.09,605.31 L634.29,604.39 L635.49,605.01 L636.69,604.97 L637.89,604.21 L639.09,604.81 L640.29,604.75 L641.49,604.98 L642.69,604.09 L643.89,604.86 L645.09,605.17 L646.29,604.69 L647.49,604.46 L648.69,603.77 L649.89,604.37 L651.09,604.14 L652.29,604.73 L653.49,604.66 L654.69,604.5 L655.89,603.9 L657.09,604.66 L658.29,604.68 L659.49,604 L660.69,605.2 L661.89,604.9 L663.08,604.15 L664.28,605.55 L665.47,604.41 L666.66,604.84 L667.85,605.6 L669.05,605.54 L670.24,605.6 L671.44,605.86 L672.63,605.66 L673.83,605.51 L675.03,605.38 L676.22,605.28 L677.42,606.39 L678.62,606.52 L679.82,606.24 L681.02,606.62 L682.21,606.07 L683.41,605.98 L684.61,606.23 L685.81,607.06 L687.01,605.79 L688.21,606.58 L689.41,606.23 L690.6,607.11 L691.8,606.5 L693,606.52 L694.2,606.68 L695.4,606.96 L696.6,607.38 L697.8,606.76 L699,607.6 L700.2,606.48 L701.39,606.79 L702.59,606.57 L703.79,606.65 L704.99,607.77 L706.19,607.74 L707.39,606.93 L708.59,606.99 L709.79,607.41 L710.98,607.98 L712.18,608.15 L713.38,608.1 L714.58,607.9 L715.78,607.24 L716.98,607.7 L718.18,607.42 L719.38,608.01 L720.57,608.13 L721.77,607.6 L722.97,607.73 L724.17,608.63 L725.37,607.49 L726.57,608.78 L727.77,608.98 L728.97,609.13 L730.16,608.28 L731.36,608.61 L732.56,608.72 L733.76,608.87 L734.96,609.49 L736.16,609.1 L737.35,608.55 L738.55,609.53 L739.75,609 L740.95,609.27 L742.14,609.55 L743.34,608.47 L744.54,609.77 L745.74,609.68 L746.93,609.48 L748.13,609.61 L749.33,609.58 L750.53,609.21 L751.72,609.82 L752.92,609.08 L754.12,609.88 L755.32,610.16 L756.52,609.87 L757.72,610.09 L758.92,610.73 L760.12,610.62 L761.32,609.38 L762.52,610.39 L763.72,610.06 L764.92,609.06 L766.11,609.46 L767.31,609.16 L768.5,608.81 L769.7,609.45 L770.9,609.99 L771,609.3" fill="none" stroke="#DB5015" stroke-width="5.8" stroke-linejoin="round" stroke-linecap="round"/>
<path clip-path="url(#cl)" d="M128.5,632.3 L129.67,632.03 L130.84,631.75 L132,631.31 L133.17,630.94 L134.33,630.83 L135.5,630.4 L136.67,630.07 L137.84,630.01 L139.01,630.06 L140.18,629.74 L141.36,629.49 L142.54,628.96 L143.73,628.97 L144.92,628.65 L146.11,628.44 L147.3,628.27 L148.5,628.22 L149.69,628.54 L150.89,628.38 L152.08,628.27 L153.28,628.16 L154.47,627.7 L155.67,627.66 L156.86,627.74 L158.06,627.68 L159.25,627.63 L160.44,627.51 L161.64,626.91 L162.83,627.09 L164.02,627 L165.22,626.76 L166.41,626.44 L167.6,626.48 L168.79,626.12 L169.99,626.5 L171.18,626.33 L172.37,626.01 L173.57,625.74 L174.76,625.98 L175.95,625.65 L177.15,625.71 L178.34,625.57 L179.53,625.24 L180.73,625.06 L181.92,625.05 L183.12,624.83 L184.31,624.55 L185.5,624.52 L186.7,624.71 L187.89,624.14 L189.09,624.04 L190.29,624.3 L191.48,624 L192.68,624.05 L193.87,623.9 L195.07,623.7 L196.26,623.95 L197.45,623.32 L198.64,623.29 L199.83,623 L201.02,623.09 L202.2,622.71 L203.39,622.59 L204.58,622.65 L205.77,622.22 L206.95,622.19 L208.14,622.22 L209.33,621.56 L210.52,621.37 L211.7,621.29 L212.89,621.44 L214.08,621.18 L215.27,620.78 L216.45,620.67 L217.64,620.4 L218.83,620.39 L220.02,619.97 L221.2,620.19 L222.39,620.13 L223.58,619.99 L224.76,619.68 L225.95,619.64 L227.14,618.9 L228.32,618.88 L229.51,619.11 L230.7,618.81 L231.88,618.41 L233.07,618.55 L234.26,618.18 L235.44,618.11 L236.63,617.61 L237.81,617.37 L239,617.34 L240.19,616.97 L241.37,616.94 L242.56,617.11 L243.75,616.55 L244.93,616.18 L246.12,616.03 L247.31,615.93 L248.5,616.13 L249.68,615.71 L250.87,615.5 L252.06,615.22 L253.25,615.58 L254.44,615.07 L255.62,614.77 L256.81,614.5 L258,614.32 L259.18,614.2 L260.37,614.31 L261.55,613.79 L262.73,613.51 L263.91,613.56 L265.09,613.19 L266.26,613.41 L267.44,612.65 L268.62,612.66 L269.8,612.58 L270.97,612.13 L272.16,612.26 L273.34,611.75 L274.52,611.4 L275.7,611.3 L276.88,610.87 L278.07,610.91 L279.25,610.6 L280.44,610.79 L281.62,610.56 L282.8,610.16 L283.98,609.67 L285.17,609.6 L286.35,609.38 L287.53,609.15 L288.71,608.95 L289.89,609.12 L291.07,608.46 L292.25,608.2 L293.43,608.51 L294.61,608.09 L295.8,608.14 L296.98,607.59 L298.17,607.71 L299.35,607.38 L300.54,607.29 L301.73,607.1 L302.92,606.79 L304.11,606.4 L305.3,606.32 L306.49,606.57 L307.68,606.44 L308.88,606.32 L310.07,605.83 L311.26,605.88 L312.45,605.83 L313.64,605.6 L314.84,605.57 L316.03,605.26 L317.22,605.21 L318.41,605.09 L319.61,604.72 L320.8,604.98 L321.99,604.88 L323.19,604.23 L324.38,604.65 L325.58,604.53 L326.77,604.25 L327.97,603.77 L329.16,604.18 L330.36,603.63 L331.56,604.04 L332.75,603.78 L333.95,603.33 L335.15,603.31 L336.35,603.51 L337.54,603.4 L338.74,603.43 L339.94,603.46 L341.14,602.97 L342.34,602.78 L343.53,603.29 L344.73,602.7 L345.93,603.17 L347.13,602.66 L348.33,603 L349.52,602.88 L350.71,602.78 L351.9,602.43 L353.09,602.42 L354.23,601.67 L355.31,601.42 L356.3,600.54 L357.21,600.1 L358.09,599.21 L358.94,598.18 L359.77,597.35 L360.61,596.2 L361.46,595.35 L362.26,594.79 L363.02,593.8 L363.79,593.1 L364.6,592.07 L365.51,591 L366.55,590.55 L367.68,590.41 L368.87,590.06 L370.06,589.66 L371.26,590.09 L372.46,590.08 L373.66,589.68 L374.86,590.04 L376.05,590.05 L377.25,590.41 L378.44,590.26 L379.63,590.35 L380.82,590.64 L382.02,591.06 L383.21,590.67 L384.4,590.81 L385.6,591.23 L386.79,591.49 L387.99,591.36 L389.19,591.39 L390.38,591.73 L391.58,591.76 L392.78,591.41 L393.97,591.98 L395.17,591.64 L396.37,591.78 L397.57,592.18 L398.77,592 L399.96,592.29 L401.16,591.98 L402.36,592.47 L403.56,592.12 L404.76,592.16 L405.96,592.42 L407.15,592.39 L408.35,592.56 L409.55,592.82 L410.75,592.75 L411.95,592.36 L413.15,592.57 L414.35,592.73 L415.55,592.71 L416.75,592.85 L417.95,592.72 L419.15,592.48 L420.35,592.59 L421.55,592.96 L422.75,592.68 L423.95,592.95 L425.15,593.11 L426.35,592.94 L427.55,593.02 L428.75,593.04 L429.94,592.92 L431.14,593.35 L432.34,593.15 L433.54,593.49 L434.74,593.21 L435.93,593.62 L437.13,593.66 L438.33,593.64 L439.52,593.63 L440.72,593.53 L441.92,594 L443.11,593.85 L444.31,594.12 L445.51,593.89 L446.7,593.95 L447.9,594.08 L449.1,594.58 L450.29,594.29 L451.49,594.81 L452.69,594.59 L453.88,594.8 L455.08,594.75 L456.28,595 L457.47,594.77 L458.67,595.04 L459.87,595.44 L461.06,595.06 L462.26,595.43 L463.46,595.31 L464.66,595.38 L465.85,595.29 L467.05,595.37 L468.25,596.01 L469.45,596.01 L470.64,596.08 L471.84,596.17 L473.04,596.34 L474.23,595.95 L475.43,596.29 L476.63,596.33 L477.82,596.47 L479.02,596.78 L480.22,596.78 L481.41,597 L482.61,596.6 L483.8,597.03 L485,597.16 L486.19,597.32 L487.38,597.36 L488.58,597.62 L489.77,597.43 L490.96,597.95 L492.15,597.77 L493.35,598.03 L494.54,598.35 L495.73,598.39 L496.92,598.3 L498.11,598.4 L499.3,598.61 L500.49,598.94 L501.68,599.31 L502.87,599.4 L504.06,599.25 L505.25,599.39 L506.45,599.78 L507.64,599.6 L508.83,599.81 L510.02,599.71 L511.22,599.94 L512.41,600.28 L513.6,600.5 L514.8,600.58 L515.99,600.56 L517.18,601.03 L518.38,600.96 L519.57,600.8 L520.76,600.87 L521.96,601.53 L523.15,601.66 L524.35,601.74 L525.54,601.67 L526.73,601.61 L527.93,601.6 L529.12,601.82 L530.32,601.91 L531.51,602.46 L532.7,602.55 L533.9,602.6 L535.09,602.34 L536.29,602.51 L537.48,602.67 L538.68,603.18 L539.87,602.82 L541.06,603.32 L542.26,603.37 L543.45,603.4 L544.65,603.76 L545.84,603.46 L547.04,603.73 L548.23,603.62 L549.43,603.7 L550.62,603.77 L551.82,604.06 L553.01,604.05 L554.2,604.13 L555.4,604.8 L556.59,604.5 L557.79,604.97 L558.98,604.98 L560.18,605.11 L561.37,605.18 L562.56,605.48 L563.76,605.56 L564.95,605.59 L566.15,605.62 L567.34,605.82 L568.53,605.97 L569.72,606 L570.92,606.1 L572.11,606.03 L573.3,606.59 L574.49,606.51 L575.68,606.41 L576.87,606.61 L578.07,607.18 L579.26,606.96 L580.45,607.19 L581.64,607.51 L582.83,607.76 L584.02,607.59 L585.21,607.76 L586.4,607.93 L587.6,607.83 L588.79,608.48 L589.98,608.1 L591.17,608.79 L592.37,608.44 L593.56,608.56 L594.75,609.1 L595.95,609.2 L597.14,608.96 L598.34,609.26 L599.53,609.33 L600.73,609.58 L601.92,609.37 L603.12,609.86 L604.31,610.07 L605.51,610 L606.7,610.23 L607.9,610.34 L609.1,610.11 L610.29,610.48 L611.49,610.57 L612.69,610.51 L613.88,610.31 L615.08,610.69 L616.28,610.95 L617.47,610.66 L618.67,610.93 L619.87,611.15 L621.07,611.03 L622.27,610.74 L623.47,611.14 L624.67,610.96 L625.87,611.34 L627.07,611.25 L628.27,611.04 L629.47,611.4 L630.67,611.23 L631.87,611.05 L633.07,611.33 L634.27,611.34 L635.47,611.31 L636.67,611.27 L637.86,611.1 L639.06,611.09 L640.26,611 L641.46,610.91 L642.66,611.15 L643.86,610.74 L645.06,610.55 L646.26,610.9 L647.46,610.75 L648.66,610.75 L649.86,610.75 L651.06,610.51 L652.26,610.44 L653.46,610.33 L654.66,610.72 L655.86,610.75 L657.06,610.6 L658.26,610.27 L659.46,610.79 L660.66,610.66 L661.84,610.31 L663,609.68 L664.1,609.7 L665.15,609 L666.19,608.39 L667.24,607.45 L668.3,607.32 L669.34,606.31 L670.39,605.98 L671.45,605.22 L672.55,604.87 L673.69,604.81 L674.86,604.49 L676.06,604.41 L677.25,604.07 L678.45,604.12 L679.65,604.26 L680.85,603.92 L682.05,604.15 L683.25,604.49 L684.45,604.38 L685.65,604.47 L686.85,604.17 L688.05,604.44 L689.25,604.54 L690.45,604.53 L691.65,604.42 L692.85,604.32 L694.05,604.28 L695.25,604.86 L696.45,604.94 L697.64,604.61 L698.84,604.96 L700.04,604.82 L701.24,605.02 L702.44,605.21 L703.63,604.98 L704.83,605.23 L706.03,605.09 L707.23,605.33 L708.42,605.13 L709.62,605.36 L710.82,605.46 L712.01,605.93 L713.21,605.56 L714.4,606.03 L715.6,605.73 L716.8,606.37 L717.99,605.98 L719.19,606.03 L720.38,606.2 L721.58,606.74 L722.78,606.67 L723.97,606.91 L725.17,606.77 L726.36,606.63 L727.56,606.86 L728.76,607.02 L729.95,607.43 L731.15,607.02 L732.35,607.15 L733.54,607.59 L734.74,607.24 L735.94,607.84 L737.14,607.52 L738.33,607.77 L739.53,607.91 L740.73,608.14 L741.92,607.73 L743.12,608.27 L744.32,607.96 L745.52,608.36 L746.71,608.03 L747.91,608.55 L749.11,608.27 L750.31,608.36 L751.5,608.33 L752.7,608.58 L753.9,608.65 L755.1,609.1 L756.3,608.93 L757.49,608.84 L758.69,609.26 L759.89,608.81 L761.09,608.87 L762.29,609.33 L763.49,609.34 L764.69,609.17 L765.89,609.34 L767.09,608.77 L768.29,609.26 L769.49,609.13 L770.69,609.1 L771,609" fill="none" stroke="#0C3A66" stroke-width="5.4" stroke-linejoin="round" stroke-linecap="round"/>
<path clip-path="url(#cu)" d="M128.6,306 L128.59,294.53 L128.56,282.49 L128.52,270.45 L128.51,258.98 L128.56,248.64 L128.7,240 L128.81,236.23 L128.93,232.89 L129.08,229.87 L129.23,227.05 L129.41,224.33 L129.6,221.6 L129.77,219.37 L129.96,217.25 L130.17,215.19 L130.38,213.16 L130.59,211.11 L130.8,209 L131.02,206.71 L131.24,204.39 L131.47,202.04 L131.7,199.69 L131.94,197.34 L132.2,195 L132.47,192.66 L132.74,190.33 L133.03,188 L133.33,185.66 L133.66,183.33 L134,181 L134.37,178.63 L134.76,176.23 L135.18,173.84 L135.6,171.47 L136.05,169.18 L136.5,167 L136.89,165.24 L137.29,163.53 L137.7,161.88 L138.12,160.27 L138.55,158.71 L139,157.2 L139.39,155.96 L139.79,154.77 L140.19,153.61 L140.61,152.48 L141.04,151.34 L141.5,150.2 L141.99,149.01 L142.51,147.82 L143.04,146.63 L143.59,145.45 L144.14,144.3 L144.7,143.2 L145.18,142.2 L145.64,141.16 L146.1,140.15 L146.6,139.22 L147.16,138.42 L147.8,137.8 L148.4,137.46 L149.05,137.25 L149.74,137.13 L150.46,137.06 L151.22,136.99 L152,136.9 L153.06,136.77 L154.2,136.67 L155.39,136.58 L156.61,136.49 L157.82,136.37 L159,136.2 L160.17,135.99 L161.35,135.77 L162.52,135.51 L163.69,135.22 L164.85,134.89 L166,134.5 L167.19,134.01 L168.37,133.43 L169.54,132.8 L170.7,132.16 L171.86,131.55 L173,131 L174.01,130.56 L174.99,130.17 L175.96,129.8 L176.95,129.43 L177.99,129.03 L179.1,128.6 L180.74,127.93 L182.51,127.19 L184.37,126.41 L186.26,125.62 L188.16,124.88 L190,124.2 L191.71,123.62 L193.41,123.08 L195.1,122.57 L196.8,122.09 L198.5,121.64 L200.2,121.2 L201.89,120.8 L203.59,120.43 L205.29,120.09 L206.99,119.76 L208.7,119.43 L210.4,119.1 L212.11,118.76 L213.83,118.43 L215.55,118.1 L217.27,117.77 L218.99,117.44 L220.7,117.1 L222.4,116.76 L224.11,116.43 L225.81,116.1 L227.51,115.75 L229.21,115.39 L230.9,115 L232.61,114.58 L234.31,114.13 L236.01,113.66 L237.71,113.18 L239.4,112.69 L241.1,112.2 L242.8,111.71 L244.51,111.22 L246.21,110.73 L247.91,110.21 L249.61,109.67 L251.3,109.1 L253.03,108.48 L254.75,107.84 L256.47,107.17 L258.19,106.47 L259.9,105.75 L261.6,105 L263.32,104.21 L265.02,103.4 L266.73,102.55 L268.42,101.69 L270.11,100.8 L271.8,99.9 L273.54,98.93 L275.31,97.91 L277.07,96.87 L278.8,95.84 L280.45,94.87 L282,94 L283.08,93.41 L284.09,92.88 L285.06,92.38 L286.02,91.89 L286.99,91.4 L288,90.9 L289.13,90.35 L290.29,89.81 L291.47,89.27 L292.65,88.72 L293.83,88.17 L295,87.6 L296.17,87.03 L297.35,86.46 L298.52,85.88 L299.69,85.29 L300.85,84.67 L302,84 L303.18,83.25 L304.36,82.45 L305.52,81.62 L306.68,80.78 L307.84,79.93 L309,79.1 L310.16,78.28 L311.33,77.44 L312.49,76.61 L313.65,75.79 L314.82,74.98 L316,74.2 L317.15,73.45 L318.31,72.71 L319.47,71.98 L320.64,71.28 L321.81,70.62 L323,70 L324.15,69.46 L325.31,68.98 L326.48,68.52 L327.66,68.09 L328.83,67.65 L330,67.2 L331.18,66.76 L332.38,66.34 L333.58,65.92 L334.76,65.47 L335.91,64.98 L337,64.4 L338.02,63.76 L339,63.07 L339.94,62.33 L340.85,61.54 L341.74,60.7 L342.6,59.8 L343.52,58.75 L344.41,57.62 L345.26,56.44 L346.08,55.2 L346.86,53.92 L347.6,52.6 L348.36,51.11 L349.06,49.53 L349.72,47.91 L350.34,46.26 L350.93,44.61 L351.5,43 L352.02,41.46 L352.51,39.89 L352.97,38.33 L353.41,36.8 L353.82,35.35 L354.2,34 L354.47,33.07 L354.72,32.17 L354.96,31.32 L355.18,30.51 L355.39,29.73 L355.6,29 L355.73,28.47 L355.84,27.96 L355.95,27.47 L356.07,27.01 L356.21,26.58 L356.4,26.2 L356.58,25.92 L356.78,25.66 L357,25.43 L357.24,25.22 L357.5,25.04 L357.8,24.9 L358.24,24.78 L358.75,24.74 L359.31,24.75 L359.88,24.78 L360.45,24.81 L361,24.8 L361.51,24.77 L362.03,24.73 L362.55,24.68 L363.06,24.63 L363.54,24.57 L364,24.5 L364.36,24.4 L364.71,24.25 L365.05,24.1 L365.37,23.98 L365.66,23.93 L365.9,24 L366.15,24.3 L366.31,24.8 L366.41,25.43 L366.48,26.13 L366.53,26.84 L366.6,27.5 L366.68,28.17 L366.73,28.85 L366.76,29.53 L366.8,30.24 L366.84,31 L366.9,31.8 L367,33.05 L367.11,34.43 L367.24,35.89 L367.39,37.37 L367.57,38.83 L367.8,40.2 L368.06,41.38 L368.35,42.53 L368.68,43.65 L369.02,44.76 L369.36,45.87 L369.7,47 L370.03,48.16 L370.35,49.33 L370.68,50.51 L371.02,51.68 L371.39,52.84 L371.8,54 L372.27,55.19 L372.78,56.38 L373.32,57.57 L373.88,58.74 L374.44,59.89 L375,61 L375.49,61.98 L375.97,62.94 L376.45,63.88 L376.95,64.8 L377.5,65.71 L378.1,66.6 L378.8,67.55 L379.54,68.51 L380.33,69.45 L381.16,70.35 L382.05,71.17 L383,71.9 L384.05,72.52 L385.18,73.04 L386.37,73.49 L387.59,73.89 L388.81,74.29 L390,74.7 L391.18,75.12 L392.37,75.53 L393.57,75.92 L394.76,76.31 L395.9,76.7 L397,77.1 L397.88,77.43 L398.72,77.73 L399.54,78.04 L400.34,78.37 L401.16,78.75 L402,79.2 L403.07,79.86 L404.14,80.62 L405.23,81.45 L406.34,82.34 L407.46,83.26 L408.6,84.2 L409.95,85.34 L411.34,86.56 L412.74,87.83 L414.16,89.11 L415.58,90.38 L417,91.6 L418.39,92.76 L419.77,93.92 L421.17,95.07 L422.57,96.18 L423.98,97.27 L425.4,98.3 L426.77,99.22 L428.13,100.08 L429.51,100.91 L430.9,101.73 L432.33,102.59 L433.8,103.5 L435.6,104.65 L437.49,105.87 L439.42,107.13 L441.34,108.4 L443.22,109.67 L445,110.9 L446.48,111.96 L447.91,113.01 L449.29,114.05 L450.66,115.1 L452.02,116.14 L453.4,117.2 L454.8,118.28 L456.2,119.37 L457.59,120.47 L458.99,121.56 L460.39,122.64 L461.8,123.7 L463.19,124.72 L464.58,125.74 L465.98,126.74 L467.38,127.72 L468.78,128.67 L470.2,129.6 L471.59,130.47 L472.98,131.32 L474.38,132.14 L475.78,132.94 L477.19,133.73 L478.6,134.5 L479.99,135.25 L481.38,135.98 L482.78,136.69 L484.18,137.38 L485.59,138.06 L487,138.7 L488.39,139.3 L489.79,139.86 L491.19,140.39 L492.6,140.92 L494,141.45 L495.4,142 L496.8,142.57 L498.2,143.14 L499.6,143.72 L500.99,144.3 L502.4,144.86 L503.8,145.4 L505.18,145.9 L506.56,146.35 L507.93,146.8 L509.32,147.26 L510.74,147.75 L512.2,148.3 L514.01,149.02 L515.9,149.81 L517.83,150.64 L519.76,151.51 L521.63,152.4 L523.4,153.3 L524.89,154.11 L526.33,154.94 L527.72,155.78 L529.08,156.65 L530.44,157.56 L531.8,158.5 L533.22,159.53 L534.64,160.6 L536.04,161.71 L537.44,162.85 L538.82,164.01 L540.2,165.2 L541.64,166.47 L543.1,167.77 L544.55,169.11 L545.96,170.47 L547.32,171.83 L548.6,173.2 L549.7,174.43 L550.74,175.65 L551.74,176.89 L552.7,178.14 L553.62,179.44 L554.5,180.8 L555.39,182.32 L556.24,183.91 L557.04,185.55 L557.8,187.21 L558.52,188.87 L559.2,190.5 L559.81,192.01 L560.38,193.51 L560.92,195.01 L561.42,196.51 L561.88,198.01 L562.3,199.5 L562.65,200.9 L562.96,202.27 L563.23,203.64 L563.47,205.04 L563.69,206.48 L563.9,208 L564.12,210.04 L564.29,212.29 L564.44,214.61 L564.56,216.87 L564.68,218.94 L564.8,220.7 L564.87,221.55 L564.94,222.3 L565.01,222.99 L565.07,223.65 L565.13,224.31 L565.2,225 L565.2,225 L565.34,219.15 L565.48,213.27 L565.62,207.38 L565.76,201.53 L565.89,195.73 L566,190 L565.95,184 L565.73,177.28 L565.49,170.6 L565.41,164.74 L565.66,160.45 L566.4,158.5 L566.75,158.52 L567.15,158.83 L567.57,159.3 L568.03,159.81 L568.5,160.21 L569,160.4 L569.68,160.33 L570.44,160.08 L571.23,159.67 L572.03,159.14 L572.8,158.54 L573.5,157.9 L574.3,156.96 L575.02,155.82 L575.7,154.56 L576.35,153.24 L577.01,151.93 L577.7,150.7 L578.39,149.56 L579.08,148.41 L579.77,147.28 L580.47,146.16 L581.18,145.06 L581.9,144 L582.56,143.02 L583.21,142.06 L583.86,141.12 L584.55,140.21 L585.28,139.33 L586.1,138.5 L587.08,137.69 L588.14,136.95 L589.27,136.26 L590.44,135.57 L591.62,134.87 L592.8,134.1 L594.16,133.18 L595.57,132.25 L596.99,131.29 L598.42,130.27 L599.83,129.18 L601.2,128 L602.72,126.51 L604.23,124.87 L605.71,123.14 L607.15,121.38 L608.52,119.65 L609.8,118 L610.78,116.7 L611.68,115.43 L612.54,114.18 L613.38,112.93 L614.22,111.68 L615.1,110.4 L616.07,109.02 L617.05,107.63 L618.03,106.23 L619.03,104.82 L620.02,103.41 L621,102 L621.97,100.6 L622.92,99.2 L623.87,97.79 L624.83,96.39 L625.81,94.99 L626.8,93.6 L627.84,92.19 L628.91,90.79 L629.99,89.4 L631.07,88 L632.15,86.6 L633.2,85.2 L634.23,83.81 L635.25,82.41 L636.27,81.02 L637.27,79.62 L638.25,78.21 L639.2,76.8 L640.09,75.38 L640.95,73.91 L641.79,72.44 L642.62,71 L643.46,69.64 L644.3,68.4 L644.98,67.51 L645.66,66.69 L646.34,65.91 L647.02,65.17 L647.7,64.44 L648.4,63.7 L649.09,62.99 L649.8,62.32 L650.52,61.66 L651.23,60.98 L651.92,60.27 L652.6,59.5 L653.35,58.56 L654.11,57.57 L654.85,56.53 L655.55,55.46 L656.21,54.34 L656.8,53.2 L657.34,51.94 L657.8,50.62 L658.2,49.26 L658.58,47.89 L658.93,46.53 L659.3,45.2 L659.65,43.97 L659.99,42.73 L660.32,41.5 L660.63,40.29 L660.92,39.12 L661.2,38 L661.42,37.11 L661.62,36.26 L661.82,35.43 L662,34.62 L662.16,33.81 L662.3,33 L662.4,32.23 L662.46,31.45 L662.51,30.67 L662.56,29.92 L662.62,29.19 L662.7,28.5 L662.77,27.96 L662.83,27.41 L662.9,26.89 L662.99,26.4 L663.12,25.96 L663.3,25.6 L663.47,25.38 L663.65,25.2 L663.85,25.04 L664.08,24.91 L664.33,24.8 L664.6,24.7 L665.07,24.6 L665.61,24.57 L666.2,24.57 L666.82,24.6 L667.43,24.61 L668,24.6 L668.52,24.56 L669.06,24.52 L669.58,24.47 L670.09,24.42 L670.57,24.36 L671,24.3 L671.28,24.23 L671.55,24.13 L671.8,24.03 L672.03,23.96 L672.23,23.94 L672.4,24 L672.56,24.25 L672.63,24.66 L672.64,25.18 L672.62,25.77 L672.59,26.39 L672.6,27 L672.63,27.86 L672.66,28.77 L672.68,29.73 L672.71,30.76 L672.74,31.85 L672.8,33 L672.91,34.83 L673.03,36.86 L673.18,39.02 L673.36,41.23 L673.56,43.45 L673.8,45.6 L674.08,47.72 L674.41,49.86 L674.77,51.99 L675.14,54.1 L675.52,56.18 L675.9,58.2 L676.21,59.99 L676.5,61.78 L676.79,63.53 L677.12,65.23 L677.51,66.86 L678,68.4 L678.48,69.64 L679,70.83 L679.57,71.96 L680.2,73.04 L680.91,74.09 L681.7,75.1 L682.72,76.15 L683.89,77.12 L685.15,78.05 L686.43,78.95 L687.67,79.86 L688.8,80.8 L689.72,81.65 L690.62,82.5 L691.48,83.35 L692.3,84.21 L693.08,85.09 L693.8,86 L694.41,86.87 L694.96,87.75 L695.47,88.65 L695.96,89.57 L696.46,90.52 L697,91.5 L697.67,92.71 L698.34,93.96 L699.03,95.26 L699.75,96.58 L700.5,97.93 L701.3,99.3 L702.33,100.95 L703.44,102.65 L704.6,104.39 L705.78,106.14 L706.96,107.88 L708.1,109.6 L709.17,111.25 L710.22,112.89 L711.26,114.53 L712.31,116.16 L713.39,117.78 L714.5,119.4 L715.67,121.05 L716.86,122.7 L718.08,124.34 L719.32,125.97 L720.59,127.59 L721.9,129.2 L723.3,130.85 L724.76,132.49 L726.25,134.12 L727.75,135.75 L729.24,137.37 L730.7,139 L732.1,140.62 L733.49,142.27 L734.87,143.91 L736.25,145.53 L737.62,147.1 L739,148.6 L740.24,149.88 L741.47,151.11 L742.71,152.3 L743.95,153.46 L745.21,154.62 L746.5,155.8 L747.92,157.04 L749.4,158.28 L750.91,159.51 L752.39,160.74 L753.8,161.97 L755.1,163.2 L756.12,164.24 L757.08,165.26 L758,166.28 L758.87,167.32 L759.7,168.39 L760.5,169.5 L761.28,170.65 L762.01,171.81 L762.7,173 L763.36,174.25 L763.99,175.57 L764.6,177 L765.37,179.07 L766.12,181.33 L766.81,183.74 L767.45,186.21 L768.01,188.68 L768.5,191.1 L768.88,193.42 L769.16,195.75 L769.38,198.09 L769.55,200.43 L769.72,202.76 L769.9,205.1 L770.1,207.46 L770.28,209.84 L770.46,212.23 L770.62,214.59 L770.77,216.89 L770.9,219.1 L770.99,220.92 L771.06,222.68 L771.13,224.4 L771.18,226.09 L771.24,227.78 L771.3,229.5" fill="none" stroke="#000" stroke-width="5.4" stroke-linejoin="round" stroke-linecap="round"/>
<path d="M130.88,60.77 L135.92,62.44 M145.48,65.09 L150.52,66.76 M160.78,70.17 L165.82,71.84 M175.08,74.84 L180.12,76.50 M191.58,80.56 L196.62,82.22 M203.88,84.39 L208.92,86.05 M217.18,88.73 L222.22,90.38 M231.98,93.61 L237.02,95.26 M247.78,98.85 L252.82,100.50 M262.68,103.74 L267.72,105.39 M276.78,108.44 L281.82,110.09 M290.38,113.01 L295.42,114.65 M302.68,116.96 L307.72,118.60 M317.98,121.94 L323.02,123.58 M331.58,126.30 L336.62,127.92 M345.28,130.71 L350.32,132.33 M359.58,135.16 L364.62,136.78 M374.48,140.00 L379.52,141.61 M390.08,145.04 L395.12,146.65 M404.97,149.67 L410.03,151.27 M419.87,154.36 L424.93,155.96 M434.37,159.08 L439.43,160.67 M449.97,163.93 L455.03,165.52 M463.37,168.29 L468.43,169.87 M478.67,172.98 L483.73,174.55 M494.57,177.85 L499.63,179.42 M507.47,181.85 L512.53,183.41 M520.17,185.81 L525.23,187.36 M535.97,190.58 L541.03,192.13 M551.06,195.24 L556.14,196.78 M565.06,199.47 L570.14,201.00 M580.36,204.13 L585.44,205.65 M595.16,208.50 L600.24,210.02 M610.26,213.11 L615.34,214.62 M623.96,217.14 L629.04,218.65 M638.76,221.53 L643.84,223.02 M653.76,225.88 L658.84,227.37 M666.06,229.52 L671.14,231.00 M682.65,234.23 L687.75,235.70 M697.25,238.53 L702.35,239.99 M712.65,242.83 L717.75,244.28 M727.25,246.95 L732.35,248.39 M742.05,251.26 L747.15,252.69 M755.45,254.98 L760.55,256.40 M771.00,259.21 L771.00,259.22" fill="none" stroke="#EE7D22" stroke-width="6" stroke-linecap="round"/>
<rect x="120" y="40" width="6.85" height="40" fill="#fff"/>
<line x1="367.5" y1="10.3" x2="367.5" y2="630" stroke="#000" stroke-width="2.2" stroke-dasharray="13.5 12.84"/>
<line x1="674.1" y1="10.3" x2="674.1" y2="630" stroke="#000" stroke-width="2.2" stroke-dasharray="13.5 12.84"/>
<rect x="129.3" y="11.2" width="48.5" height="46.5" fill="#fff"/>
<rect x="129.5" y="341" width="502.5" height="41.5" fill="#fff"/>
<rect x="141.7" y="391.6" width="464.5" height="82.5" fill="#fff" stroke="#000" stroke-width="1.2"/>
<line x1="126.85" y1="10" x2="861.65" y2="10" stroke="#000" stroke-width="2.3"/>
<line x1="128" y1="8.85" x2="128" y2="303.8" stroke="#000" stroke-width="2.3"/>
<line x1="860.5" y1="8.85" x2="860.5" y2="303.8" stroke="#000" stroke-width="2.3"/>
<line x1="128" y1="302.8" x2="138.8" y2="302.8" stroke="#000" stroke-width="2"/>
<line x1="860.5" y1="302.8" x2="849.7" y2="302.8" stroke="#000" stroke-width="2"/>
<line x1="128" y1="288.16" x2="133.7" y2="288.16" stroke="#000" stroke-width="2"/>
<line x1="860.5" y1="288.16" x2="854.8" y2="288.16" stroke="#000" stroke-width="2"/>
<line x1="128" y1="273.52" x2="133.7" y2="273.52" stroke="#000" stroke-width="2"/>
<line x1="860.5" y1="273.52" x2="854.8" y2="273.52" stroke="#000" stroke-width="2"/>
<line x1="128" y1="258.88" x2="133.7" y2="258.88" stroke="#000" stroke-width="2"/>
<line x1="860.5" y1="258.88" x2="854.8" y2="258.88" stroke="#000" stroke-width="2"/>
<line x1="128" y1="244.24" x2="133.7" y2="244.24" stroke="#000" stroke-width="2"/>
<line x1="860.5" y1="244.24" x2="854.8" y2="244.24" stroke="#000" stroke-width="2"/>
<line x1="128" y1="229.6" x2="138.8" y2="229.6" stroke="#000" stroke-width="2"/>
<line x1="860.5" y1="229.6" x2="849.7" y2="229.6" stroke="#000" stroke-width="2"/>
<line x1="128" y1="214.96" x2="133.7" y2="214.96" stroke="#000" stroke-width="2"/>
<line x1="860.5" y1="214.96" x2="854.8" y2="214.96" stroke="#000" stroke-width="2"/>
<line x1="128" y1="200.32" x2="133.7" y2="200.32" stroke="#000" stroke-width="2"/>
<line x1="860.5" y1="200.32" x2="854.8" y2="200.32" stroke="#000" stroke-width="2"/>
<line x1="128" y1="185.68" x2="133.7" y2="185.68" stroke="#000" stroke-width="2"/>
<line x1="860.5" y1="185.68" x2="854.8" y2="185.68" stroke="#000" stroke-width="2"/>
<line x1="128" y1="171.04" x2="133.7" y2="171.04" stroke="#000" stroke-width="2"/>
<line x1="860.5" y1="171.04" x2="854.8" y2="171.04" stroke="#000" stroke-width="2"/>
<line x1="128" y1="156.4" x2="138.8" y2="156.4" stroke="#000" stroke-width="2"/>
<line x1="860.5" y1="156.4" x2="849.7" y2="156.4" stroke="#000" stroke-width="2"/>
<line x1="128" y1="141.76" x2="133.7" y2="141.76" stroke="#000" stroke-width="2"/>
<line x1="860.5" y1="141.76" x2="854.8" y2="141.76" stroke="#000" stroke-width="2"/>
<line x1="128" y1="127.12" x2="133.7" y2="127.12" stroke="#000" stroke-width="2"/>
<line x1="860.5" y1="127.12" x2="854.8" y2="127.12" stroke="#000" stroke-width="2"/>
<line x1="128" y1="112.48" x2="133.7" y2="112.48" stroke="#000" stroke-width="2"/>
<line x1="860.5" y1="112.48" x2="854.8" y2="112.48" stroke="#000" stroke-width="2"/>
<line x1="128" y1="97.84" x2="133.7" y2="97.84" stroke="#000" stroke-width="2"/>
<line x1="860.5" y1="97.84" x2="854.8" y2="97.84" stroke="#000" stroke-width="2"/>
<line x1="128" y1="83.2" x2="138.8" y2="83.2" stroke="#000" stroke-width="2"/>
<line x1="860.5" y1="83.2" x2="849.7" y2="83.2" stroke="#000" stroke-width="2"/>
<line x1="128" y1="68.56" x2="133.7" y2="68.56" stroke="#000" stroke-width="2"/>
<line x1="860.5" y1="68.56" x2="854.8" y2="68.56" stroke="#000" stroke-width="2"/>
<line x1="128" y1="53.92" x2="133.7" y2="53.92" stroke="#000" stroke-width="2"/>
<line x1="860.5" y1="53.92" x2="854.8" y2="53.92" stroke="#000" stroke-width="2"/>
<line x1="128" y1="39.28" x2="133.7" y2="39.28" stroke="#000" stroke-width="2"/>
<line x1="860.5" y1="39.28" x2="854.8" y2="39.28" stroke="#000" stroke-width="2"/>
<line x1="128" y1="24.64" x2="133.7" y2="24.64" stroke="#000" stroke-width="2"/>
<line x1="860.5" y1="24.64" x2="854.8" y2="24.64" stroke="#000" stroke-width="2"/>
<line x1="146.31" y1="10" x2="146.31" y2="14.8" stroke="#000" stroke-width="2"/>
<line x1="164.62" y1="10" x2="164.62" y2="14.8" stroke="#000" stroke-width="2"/>
<line x1="182.94" y1="10" x2="182.94" y2="14.8" stroke="#000" stroke-width="2"/>
<line x1="201.25" y1="10" x2="201.25" y2="14.8" stroke="#000" stroke-width="2"/>
<line x1="219.56" y1="10" x2="219.56" y2="20.8" stroke="#000" stroke-width="2"/>
<line x1="237.88" y1="10" x2="237.88" y2="14.8" stroke="#000" stroke-width="2"/>
<line x1="256.19" y1="10" x2="256.19" y2="14.8" stroke="#000" stroke-width="2"/>
<line x1="274.5" y1="10" x2="274.5" y2="14.8" stroke="#000" stroke-width="2"/>
<line x1="292.81" y1="10" x2="292.81" y2="14.8" stroke="#000" stroke-width="2"/>
<line x1="311.12" y1="10" x2="311.12" y2="20.8" stroke="#000" stroke-width="2"/>
<line x1="329.44" y1="10" x2="329.44" y2="14.8" stroke="#000" stroke-width="2"/>
<line x1="347.75" y1="10" x2="347.75" y2="14.8" stroke="#000" stroke-width="2"/>
<line x1="366.06" y1="10" x2="366.06" y2="14.8" stroke="#000" stroke-width="2"/>
<line x1="384.38" y1="10" x2="384.38" y2="14.8" stroke="#000" stroke-width="2"/>
<line x1="402.69" y1="10" x2="402.69" y2="20.8" stroke="#000" stroke-width="2"/>
<line x1="421" y1="10" x2="421" y2="14.8" stroke="#000" stroke-width="2"/>
<line x1="439.31" y1="10" x2="439.31" y2="14.8" stroke="#000" stroke-width="2"/>
<line x1="457.62" y1="10" x2="457.62" y2="14.8" stroke="#000" stroke-width="2"/>
<line x1="475.94" y1="10" x2="475.94" y2="14.8" stroke="#000" stroke-width="2"/>
<line x1="494.25" y1="10" x2="494.25" y2="20.8" stroke="#000" stroke-width="2"/>
<line x1="512.56" y1="10" x2="512.56" y2="14.8" stroke="#000" stroke-width="2"/>
<line x1="530.88" y1="10" x2="530.88" y2="14.8" stroke="#000" stroke-width="2"/>
<line x1="549.19" y1="10" x2="549.19" y2="14.8" stroke="#000" stroke-width="2"/>
<line x1="567.5" y1="10" x2="567.5" y2="14.8" stroke="#000" stroke-width="2"/>
<line x1="585.81" y1="10" x2="585.81" y2="20.8" stroke="#000" stroke-width="2"/>
<line x1="604.12" y1="10" x2="604.12" y2="14.8" stroke="#000" stroke-width="2"/>
<line x1="622.44" y1="10" x2="622.44" y2="14.8" stroke="#000" stroke-width="2"/>
<line x1="640.75" y1="10" x2="640.75" y2="14.8" stroke="#000" stroke-width="2"/>
<line x1="659.06" y1="10" x2="659.06" y2="14.8" stroke="#000" stroke-width="2"/>
<line x1="677.38" y1="10" x2="677.38" y2="20.8" stroke="#000" stroke-width="2"/>
<line x1="695.69" y1="10" x2="695.69" y2="14.8" stroke="#000" stroke-width="2"/>
<line x1="714" y1="10" x2="714" y2="14.8" stroke="#000" stroke-width="2"/>
<line x1="732.31" y1="10" x2="732.31" y2="14.8" stroke="#000" stroke-width="2"/>
<line x1="750.62" y1="10" x2="750.62" y2="14.8" stroke="#000" stroke-width="2"/>
<line x1="768.94" y1="10" x2="768.94" y2="20.8" stroke="#000" stroke-width="2"/>
<line x1="787.25" y1="10" x2="787.25" y2="14.8" stroke="#000" stroke-width="2"/>
<line x1="805.56" y1="10" x2="805.56" y2="14.8" stroke="#000" stroke-width="2"/>
<line x1="823.88" y1="10" x2="823.88" y2="14.8" stroke="#000" stroke-width="2"/>
<line x1="842.19" y1="10" x2="842.19" y2="14.8" stroke="#000" stroke-width="2"/>
<line x1="126.85" y1="632.4" x2="861.65" y2="632.4" stroke="#000" stroke-width="2.3"/>
<line x1="128" y1="338.6" x2="128" y2="633.5" stroke="#000" stroke-width="2.3"/>
<line x1="860.5" y1="338.6" x2="860.5" y2="633.5" stroke="#000" stroke-width="2.3"/>
<line x1="128" y1="620.2" x2="133.7" y2="620.2" stroke="#000" stroke-width="2"/>
<line x1="860.5" y1="620.2" x2="854.8" y2="620.2" stroke="#000" stroke-width="2"/>
<line x1="128" y1="608" x2="133.7" y2="608" stroke="#000" stroke-width="2"/>
<line x1="860.5" y1="608" x2="854.8" y2="608" stroke="#000" stroke-width="2"/>
<line x1="128" y1="595.8" x2="133.7" y2="595.8" stroke="#000" stroke-width="2"/>
<line x1="860.5" y1="595.8" x2="854.8" y2="595.8" stroke="#000" stroke-width="2"/>
<line x1="128" y1="583.6" x2="138.8" y2="583.6" stroke="#000" stroke-width="2"/>
<line x1="860.5" y1="583.6" x2="849.7" y2="583.6" stroke="#000" stroke-width="2"/>
<line x1="128" y1="571.4" x2="133.7" y2="571.4" stroke="#000" stroke-width="2"/>
<line x1="860.5" y1="571.4" x2="854.8" y2="571.4" stroke="#000" stroke-width="2"/>
<line x1="128" y1="559.2" x2="133.7" y2="559.2" stroke="#000" stroke-width="2"/>
<line x1="860.5" y1="559.2" x2="854.8" y2="559.2" stroke="#000" stroke-width="2"/>
<line x1="128" y1="547" x2="133.7" y2="547" stroke="#000" stroke-width="2"/>
<line x1="860.5" y1="547" x2="854.8" y2="547" stroke="#000" stroke-width="2"/>
<line x1="128" y1="534.8" x2="138.8" y2="534.8" stroke="#000" stroke-width="2"/>
<line x1="860.5" y1="534.8" x2="849.7" y2="534.8" stroke="#000" stroke-width="2"/>
<line x1="128" y1="522.6" x2="133.7" y2="522.6" stroke="#000" stroke-width="2"/>
<line x1="860.5" y1="522.6" x2="854.8" y2="522.6" stroke="#000" stroke-width="2"/>
<line x1="128" y1="510.4" x2="133.7" y2="510.4" stroke="#000" stroke-width="2"/>
<line x1="860.5" y1="510.4" x2="854.8" y2="510.4" stroke="#000" stroke-width="2"/>
<line x1="128" y1="498.2" x2="133.7" y2="498.2" stroke="#000" stroke-width="2"/>
<line x1="860.5" y1="498.2" x2="854.8" y2="498.2" stroke="#000" stroke-width="2"/>
<line x1="128" y1="486" x2="138.8" y2="486" stroke="#000" stroke-width="2"/>
<line x1="860.5" y1="486" x2="849.7" y2="486" stroke="#000" stroke-width="2"/>
<line x1="128" y1="473.8" x2="133.7" y2="473.8" stroke="#000" stroke-width="2"/>
<line x1="860.5" y1="473.8" x2="854.8" y2="473.8" stroke="#000" stroke-width="2"/>
<line x1="128" y1="461.6" x2="133.7" y2="461.6" stroke="#000" stroke-width="2"/>
<line x1="860.5" y1="461.6" x2="854.8" y2="461.6" stroke="#000" stroke-width="2"/>
<line x1="128" y1="449.4" x2="133.7" y2="449.4" stroke="#000" stroke-width="2"/>
<line x1="860.5" y1="449.4" x2="854.8" y2="449.4" stroke="#000" stroke-width="2"/>
<line x1="128" y1="437.2" x2="138.8" y2="437.2" stroke="#000" stroke-width="2"/>
<line x1="860.5" y1="437.2" x2="849.7" y2="437.2" stroke="#000" stroke-width="2"/>
<line x1="128" y1="425" x2="133.7" y2="425" stroke="#000" stroke-width="2"/>
<line x1="860.5" y1="425" x2="854.8" y2="425" stroke="#000" stroke-width="2"/>
<line x1="128" y1="412.8" x2="133.7" y2="412.8" stroke="#000" stroke-width="2"/>
<line x1="860.5" y1="412.8" x2="854.8" y2="412.8" stroke="#000" stroke-width="2"/>
<line x1="128" y1="400.6" x2="133.7" y2="400.6" stroke="#000" stroke-width="2"/>
<line x1="860.5" y1="400.6" x2="854.8" y2="400.6" stroke="#000" stroke-width="2"/>
<line x1="128" y1="388.4" x2="138.8" y2="388.4" stroke="#000" stroke-width="2"/>
<line x1="860.5" y1="388.4" x2="849.7" y2="388.4" stroke="#000" stroke-width="2"/>
<line x1="128" y1="376.2" x2="133.7" y2="376.2" stroke="#000" stroke-width="2"/>
<line x1="860.5" y1="376.2" x2="854.8" y2="376.2" stroke="#000" stroke-width="2"/>
<line x1="128" y1="364" x2="133.7" y2="364" stroke="#000" stroke-width="2"/>
<line x1="860.5" y1="364" x2="854.8" y2="364" stroke="#000" stroke-width="2"/>
<line x1="128" y1="351.8" x2="133.7" y2="351.8" stroke="#000" stroke-width="2"/>
<line x1="860.5" y1="351.8" x2="854.8" y2="351.8" stroke="#000" stroke-width="2"/>
<line x1="128" y1="339.6" x2="138.8" y2="339.6" stroke="#000" stroke-width="2"/>
<line x1="860.5" y1="339.6" x2="849.7" y2="339.6" stroke="#000" stroke-width="2"/>
<line x1="146.31" y1="632.4" x2="146.31" y2="627.6" stroke="#000" stroke-width="2"/>
<line x1="164.62" y1="632.4" x2="164.62" y2="627.6" stroke="#000" stroke-width="2"/>
<line x1="182.94" y1="632.4" x2="182.94" y2="627.6" stroke="#000" stroke-width="2"/>
<line x1="201.25" y1="632.4" x2="201.25" y2="627.6" stroke="#000" stroke-width="2"/>
<line x1="219.56" y1="632.4" x2="219.56" y2="621.6" stroke="#000" stroke-width="2"/>
<line x1="237.88" y1="632.4" x2="237.88" y2="627.6" stroke="#000" stroke-width="2"/>
<line x1="256.19" y1="632.4" x2="256.19" y2="627.6" stroke="#000" stroke-width="2"/>
<line x1="274.5" y1="632.4" x2="274.5" y2="627.6" stroke="#000" stroke-width="2"/>
<line x1="292.81" y1="632.4" x2="292.81" y2="627.6" stroke="#000" stroke-width="2"/>
<line x1="311.12" y1="632.4" x2="311.12" y2="621.6" stroke="#000" stroke-width="2"/>
<line x1="329.44" y1="632.4" x2="329.44" y2="627.6" stroke="#000" stroke-width="2"/>
<line x1="347.75" y1="632.4" x2="347.75" y2="627.6" stroke="#000" stroke-width="2"/>
<line x1="366.06" y1="632.4" x2="366.06" y2="627.6" stroke="#000" stroke-width="2"/>
<line x1="384.38" y1="632.4" x2="384.38" y2="627.6" stroke="#000" stroke-width="2"/>
<line x1="402.69" y1="632.4" x2="402.69" y2="621.6" stroke="#000" stroke-width="2"/>
<line x1="421" y1="632.4" x2="421" y2="627.6" stroke="#000" stroke-width="2"/>
<line x1="439.31" y1="632.4" x2="439.31" y2="627.6" stroke="#000" stroke-width="2"/>
<line x1="457.62" y1="632.4" x2="457.62" y2="627.6" stroke="#000" stroke-width="2"/>
<line x1="475.94" y1="632.4" x2="475.94" y2="627.6" stroke="#000" stroke-width="2"/>
<line x1="494.25" y1="632.4" x2="494.25" y2="621.6" stroke="#000" stroke-width="2"/>
<line x1="512.56" y1="632.4" x2="512.56" y2="627.6" stroke="#000" stroke-width="2"/>
<line x1="530.88" y1="632.4" x2="530.88" y2="627.6" stroke="#000" stroke-width="2"/>
<line x1="549.19" y1="632.4" x2="549.19" y2="627.6" stroke="#000" stroke-width="2"/>
<line x1="567.5" y1="632.4" x2="567.5" y2="627.6" stroke="#000" stroke-width="2"/>
<line x1="585.81" y1="632.4" x2="585.81" y2="621.6" stroke="#000" stroke-width="2"/>
<line x1="604.12" y1="632.4" x2="604.12" y2="627.6" stroke="#000" stroke-width="2"/>
<line x1="622.44" y1="632.4" x2="622.44" y2="627.6" stroke="#000" stroke-width="2"/>
<line x1="640.75" y1="632.4" x2="640.75" y2="627.6" stroke="#000" stroke-width="2"/>
<line x1="659.06" y1="632.4" x2="659.06" y2="627.6" stroke="#000" stroke-width="2"/>
<line x1="677.38" y1="632.4" x2="677.38" y2="621.6" stroke="#000" stroke-width="2"/>
<line x1="695.69" y1="632.4" x2="695.69" y2="627.6" stroke="#000" stroke-width="2"/>
<line x1="714" y1="632.4" x2="714" y2="627.6" stroke="#000" stroke-width="2"/>
<line x1="732.31" y1="632.4" x2="732.31" y2="627.6" stroke="#000" stroke-width="2"/>
<line x1="750.62" y1="632.4" x2="750.62" y2="627.6" stroke="#000" stroke-width="2"/>
<line x1="768.94" y1="632.4" x2="768.94" y2="621.6" stroke="#000" stroke-width="2"/>
<line x1="787.25" y1="632.4" x2="787.25" y2="627.6" stroke="#000" stroke-width="2"/>
<line x1="805.56" y1="632.4" x2="805.56" y2="627.6" stroke="#000" stroke-width="2"/>
<line x1="823.88" y1="632.4" x2="823.88" y2="627.6" stroke="#000" stroke-width="2"/>
<line x1="842.19" y1="632.4" x2="842.19" y2="627.6" stroke="#000" stroke-width="2"/>
<text x="116.7" y="16.9" style="font-family:'Liberation Sans',sans-serif;font-weight:bold;font-size:24px" fill="#000" text-anchor="end" >4.5</text>
<text x="116.7" y="90.1" style="font-family:'Liberation Sans',sans-serif;font-weight:bold;font-size:24px" fill="#000" text-anchor="end" >4.0</text>
<text x="116.7" y="163.3" style="font-family:'Liberation Sans',sans-serif;font-weight:bold;font-size:24px" fill="#000" text-anchor="end" >3.5</text>
<text x="116.7" y="236.5" style="font-family:'Liberation Sans',sans-serif;font-weight:bold;font-size:24px" fill="#000" text-anchor="end" >3.0</text>
<text x="116.7" y="309.7" style="font-family:'Liberation Sans',sans-serif;font-weight:bold;font-size:24px" fill="#000" text-anchor="end" >2.5</text>
<text x="872" y="17.2" style="font-family:'Liberation Sans',sans-serif;font-weight:bold;font-size:24px" fill="#EE7D22" text-anchor="start" >950</text>
<text x="872" y="90.4" style="font-family:'Liberation Sans',sans-serif;font-weight:bold;font-size:24px" fill="#EE7D22" text-anchor="start" >900</text>
<text x="872" y="163.6" style="font-family:'Liberation Sans',sans-serif;font-weight:bold;font-size:24px" fill="#EE7D22" text-anchor="start" >850</text>
<text x="872" y="236.8" style="font-family:'Liberation Sans',sans-serif;font-weight:bold;font-size:24px" fill="#EE7D22" text-anchor="start" >800</text>
<text x="872" y="310" style="font-family:'Liberation Sans',sans-serif;font-weight:bold;font-size:24px" fill="#EE7D22" text-anchor="start" >750</text>
<text x="116.7" y="639.5" style="font-family:'Liberation Sans',sans-serif;font-weight:bold;font-size:24px" fill="#000" text-anchor="end" >0</text>
<text x="116.7" y="590.7" style="font-family:'Liberation Sans',sans-serif;font-weight:bold;font-size:24px" fill="#000" text-anchor="end" >2</text>
<text x="116.7" y="541.9" style="font-family:'Liberation Sans',sans-serif;font-weight:bold;font-size:24px" fill="#000" text-anchor="end" >4</text>
<text x="116.7" y="493.1" style="font-family:'Liberation Sans',sans-serif;font-weight:bold;font-size:24px" fill="#000" text-anchor="end" >6</text>
<text x="116.7" y="444.3" style="font-family:'Liberation Sans',sans-serif;font-weight:bold;font-size:24px" fill="#000" text-anchor="end" >8</text>
<text x="116.7" y="395.5" style="font-family:'Liberation Sans',sans-serif;font-weight:bold;font-size:24px" fill="#000" text-anchor="end" >10</text>
<text x="116.7" y="346.7" style="font-family:'Liberation Sans',sans-serif;font-weight:bold;font-size:24px" fill="#000" text-anchor="end" >12</text>
<text x="872.2" y="639.5" style="font-family:'Liberation Sans',sans-serif;font-weight:bold;font-size:24px" fill="#000" text-anchor="start" >0</text>
<text x="872.2" y="590.7" style="font-family:'Liberation Sans',sans-serif;font-weight:bold;font-size:24px" fill="#000" text-anchor="start" >8</text>
<text x="872.2" y="541.9" style="font-family:'Liberation Sans',sans-serif;font-weight:bold;font-size:24px" fill="#000" text-anchor="start" >16</text>
<text x="872.2" y="493.1" style="font-family:'Liberation Sans',sans-serif;font-weight:bold;font-size:24px" fill="#000" text-anchor="start" >25</text>
<text x="872.2" y="444.3" style="font-family:'Liberation Sans',sans-serif;font-weight:bold;font-size:24px" fill="#000" text-anchor="start" >33</text>
<text x="872.2" y="395.5" style="font-family:'Liberation Sans',sans-serif;font-weight:bold;font-size:24px" fill="#000" text-anchor="start" >41</text>
<text x="872.2" y="346.7" style="font-family:'Liberation Sans',sans-serif;font-weight:bold;font-size:24px" fill="#000" text-anchor="start" >49</text>
<text x="128" y="662" style="font-family:'Liberation Sans',sans-serif;font-weight:bold;font-size:24px" fill="#000" text-anchor="middle" >0</text>
<text x="219.56" y="662" style="font-family:'Liberation Sans',sans-serif;font-weight:bold;font-size:24px" fill="#000" text-anchor="middle" >5</text>
<text x="311.12" y="662" style="font-family:'Liberation Sans',sans-serif;font-weight:bold;font-size:24px" fill="#000" text-anchor="middle" >10</text>
<text x="402.69" y="662" style="font-family:'Liberation Sans',sans-serif;font-weight:bold;font-size:24px" fill="#000" text-anchor="middle" >15</text>
<text x="494.25" y="662" style="font-family:'Liberation Sans',sans-serif;font-weight:bold;font-size:24px" fill="#000" text-anchor="middle" >20</text>
<text x="585.81" y="662" style="font-family:'Liberation Sans',sans-serif;font-weight:bold;font-size:24px" fill="#000" text-anchor="middle" >25</text>
<text x="677.38" y="662" style="font-family:'Liberation Sans',sans-serif;font-weight:bold;font-size:24px" fill="#000" text-anchor="middle" >30</text>
<text x="768.94" y="662" style="font-family:'Liberation Sans',sans-serif;font-weight:bold;font-size:24px" fill="#000" text-anchor="middle" >35</text>
<text x="860.5" y="662" style="font-family:'Liberation Sans',sans-serif;font-weight:bold;font-size:24px" fill="#000" text-anchor="middle" >40</text>
<text x="493.9" y="707.9" style="font-family:'Liberation Sans',sans-serif;font-weight:bold;font-size:28.3px" fill="#000" text-anchor="middle" >Time [h]</text>
<text x="140.4" y="45.3" style="font-family:'Liberation Sans',sans-serif;font-weight:bold;font-size:28.3px" fill="#000" text-anchor="start" >(a)</text>
<text x="144.4" y="371.9" style="font-family:'Liberation Sans',sans-serif;font-weight:bold;font-size:28.3px" fill="#000" text-anchor="start" >(b) Gas Evolution at 10 °C with LP57</text>
<text transform="translate(47.4,158.5) rotate(-90)" x="0" y="0" style="font-family:'Liberation Sans',sans-serif;font-weight:bold;font-size:28.3px" fill="#000" text-anchor="middle">Voltage [V]</text>
<text transform="translate(942.6,156.7) rotate(-90)" x="0" y="0" style="font-family:'Liberation Sans',sans-serif;font-weight:bold;font-size:28.3px" fill="#EE7D22" text-anchor="middle">Cell Pressure [mbar]</text>
<text transform="translate(21.5,486.5) rotate(-90)" x="0" y="0" style="font-family:'Liberation Sans',sans-serif;font-weight:bold;font-size:28.3px" fill="#000" text-anchor="middle">Concentration</text>
<text transform="translate(930.4,486.1) rotate(-90)" x="0" y="0" style="font-family:'Liberation Sans',sans-serif;font-weight:bold;font-size:28.3px" fill="#000" text-anchor="middle">Concentration</text>
<line x1="159.3" y1="414.4" x2="209.6" y2="414.4" stroke="#A3AD00" stroke-width="5.6" stroke-linecap="round"/>
<line x1="159.3" y1="449.2" x2="209.6" y2="449.2" stroke="#DB5015" stroke-width="5.6" stroke-linecap="round"/>
<line x1="370.1" y1="414.2" x2="419.8" y2="414.2" stroke="#0565BF" stroke-width="5.6" stroke-linecap="round"/>
<line x1="370.1" y1="448.8" x2="419.8" y2="448.8" stroke="#0C3A66" stroke-width="5.6" stroke-linecap="round"/>
<text x="216.3" y="422.6" style="font-family:'Liberation Sans',sans-serif;font-weight:bold;font-size:23.3px">H<tspan dy="6" style="font-size:15.5px">2</tspan><tspan dy="-6"> (</tspan><tspan style="font-style:italic">m/z</tspan> = 2)</text>
<text x="216.8" y="457.2" style="font-family:'Liberation Sans',sans-serif;font-weight:bold;font-size:23.3px">CO (<tspan style="font-style:italic">m/z</tspan> = 28)</text>
<text x="427" y="422.6" style="font-family:'Liberation Sans',sans-serif;font-weight:bold;font-size:23.3px">C<tspan dy="6" style="font-size:15.5px">2</tspan><tspan dy="-6">H</tspan><tspan dy="6" style="font-size:15.5px">4</tspan><tspan dy="-6"> (</tspan><tspan style="font-style:italic">m/z</tspan> = 26)</text>
<text x="427" y="457.2" style="font-family:'Liberation Sans',sans-serif;font-weight:bold;font-size:23.3px">CO<tspan dy="6" style="font-size:15.5px">2</tspan><tspan dy="-6"> (</tspan><tspan style="font-style:italic">m/z</tspan> = 44)</text>
<g transform="translate(64.60,573.75) rotate(-90)" fill="#000" style="font-family:'Liberation Sans',sans-serif;font-weight:bold">
<text x="0" y="0" style="font-size:28.3px">[µmol m</text>
<text x="109.07" y="-12.0" style="font-size:19px">−2</text>
<text x="109.07" y="7.0" style="font-size:19px">MAGE</text>
<text x="166.07" y="0" style="font-size:28.3px">]</text>
</g>
<g transform="translate(969.20,594.05) rotate(-90)" fill="#000" style="font-family:'Liberation Sans',sans-serif;font-weight:bold">
<text x="0" y="0" style="font-size:28.3px">[µmol g</text>
<text x="101.19" y="-12.0" style="font-size:19px">-1</text>
<text x="101.19" y="7.0" style="font-size:19px">NCM831205</text>
<text x="207.87" y="0" style="font-size:28.3px">]</text>
</g>
</svg>
</body></html>
